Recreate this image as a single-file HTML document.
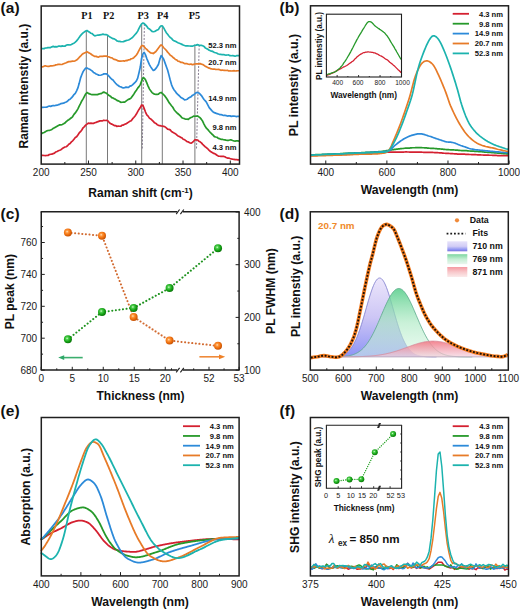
<!DOCTYPE html>
<html><head><meta charset="utf-8"><style>html,body{margin:0;padding:0;background:#fff;}svg{display:block;}</style></head><body>
<svg width="520" height="610" viewBox="0 0 520 610">
<defs><clipPath id="ca"><rect x="41.2" y="6" width="198.3" height="158"/></clipPath><clipPath id="cb"><rect x="310.5" y="5.8" width="198" height="158.2"/></clipPath><clipPath id="cbi"><rect x="326.4" y="14.2" width="75.1" height="62.8"/></clipPath><radialGradient id="sphO" cx="0.4" cy="0.38" r="0.62"><stop offset="0" stop-color="#ffe8c8"/><stop offset="0.25" stop-color="#ff9a40"/><stop offset="0.65" stop-color="#ee6e0c"/><stop offset="1" stop-color="#c45206"/></radialGradient>
<radialGradient id="sphG" cx="0.4" cy="0.38" r="0.62"><stop offset="0" stop-color="#d8ffd0"/><stop offset="0.25" stop-color="#50d050"/><stop offset="0.65" stop-color="#16a416"/><stop offset="1" stop-color="#0a760a"/></radialGradient><linearGradient id="gB" x1="0" y1="0" x2="0" y2="1"><stop offset="0" stop-color="#ece6fb"/><stop offset="0.5" stop-color="#cdc6f5"/><stop offset="1" stop-color="#8e94f6"/></linearGradient>
<linearGradient id="gG" x1="0" y1="0" x2="0" y2="1"><stop offset="0" stop-color="#5ccf8e" stop-opacity="0.9"/><stop offset="0.5" stop-color="#a8e8c0" stop-opacity="0.62"/><stop offset="1" stop-color="#d8f8e4" stop-opacity="0.5"/></linearGradient>
<linearGradient id="gR" x1="0" y1="0" x2="0" y2="1"><stop offset="0" stop-color="#f27884" stop-opacity="0.9"/><stop offset="0.6" stop-color="#f3a8b6" stop-opacity="0.75"/><stop offset="1" stop-color="#f2cedc" stop-opacity="0.65"/></linearGradient>
<clipPath id="cd"><rect x="310.3" y="211.8" width="197.7" height="157.7"/></clipPath><linearGradient id="gB2" x1="0" y1="0" x2="0" y2="1"><stop offset="0" stop-color="#e6e2fa"/><stop offset="0.5" stop-color="#d2cdf6"/><stop offset="0.85" stop-color="#8a90f2"/><stop offset="1" stop-color="#7a70d8"/></linearGradient>
<linearGradient id="gG2" x1="0" y1="0" x2="0" y2="1"><stop offset="0" stop-color="#7dd6a0"/><stop offset="0.5" stop-color="#c5efd4"/><stop offset="1" stop-color="#eaf6ee"/></linearGradient>
<linearGradient id="gR2" x1="0" y1="0" x2="0" y2="1"><stop offset="0" stop-color="#f59aa2"/><stop offset="0.5" stop-color="#f8c8cb"/><stop offset="1" stop-color="#fbeaea"/></linearGradient><clipPath id="cf"><rect x="310.4" y="417.5" width="198.1" height="157.5"/></clipPath></defs>
<rect width="520" height="610" fill="#fff"/>
<text x="0.6" y="12.5" font-family="Liberation Sans" font-size="15.5" font-weight="bold" fill="#111" text-anchor="start" >(a)</text>
<line x1="86.3" y1="31" x2="86.3" y2="164" stroke="#6a6a6a" stroke-width="0.9" />
<line x1="107.5" y1="35" x2="107.5" y2="164" stroke="#6a6a6a" stroke-width="0.9" />
<line x1="141.7" y1="23.5" x2="141.7" y2="164" stroke="#6a6a6a" stroke-width="0.9" />
<line x1="162.3" y1="25.5" x2="162.3" y2="164" stroke="#6a6a6a" stroke-width="0.9" />
<line x1="194.9" y1="44.5" x2="194.9" y2="164" stroke="#6a6a6a" stroke-width="0.9" />
<line x1="144.4" y1="24" x2="142.3" y2="149" stroke="#7a6f86" stroke-width="0.9" stroke-dasharray="2,1.5"/>
<line x1="199.2" y1="45" x2="196.5" y2="149" stroke="#7a6f86" stroke-width="0.9" stroke-dasharray="2,1.5"/>
<path d="M41.5,48.47 L42.8,48.71 L44.1,48.64 L45.4,48.02 L46.7,47.82 L48,47.57 L49.3,47.52 L50.6,47.54 L51.9,46.84 L53.2,46.39 L54.5,46.85 L55.8,46.68 L57.1,46.85 L58.4,46.2 L59.7,46.21 L61,46.39 L62.3,45.92 L63.6,46.22 L64.9,46.21 L66.2,45.32 L67.5,44.75 L68.8,44.79 L70.1,45.01 L71.4,44.42 L72.7,43.73 L74,43.22 L75.3,42.11 L76.6,40.87 L77.9,39.29 L79.2,37.38 L80.5,35.58 L81.8,34.16 L83.1,32.83 L84.4,31.92 L85.7,31.06 L87,30.54 L88.3,31.51 L89.6,32.34 L90.9,33.2 L92.2,33.61 L93.5,35.05 L94.8,35.87 L96.1,35.5 L97.4,35.22 L98.7,35.14 L100,34.85 L101.3,34.72 L102.6,34.18 L103.9,34.41 L105.2,34.59 L106.5,34.67 L107.8,35.31 L109.1,36.36 L110.4,37.33 L111.7,37.93 L113,38.65 L114.3,38.89 L115.6,39.65 L116.9,40.86 L118.2,41.31 L119.5,41.34 L120.8,41.61 L122.1,41.75 L123.4,41.63 L124.7,41.11 L126,40.68 L127.3,40.26 L128.6,39.99 L129.9,39.28 L131.2,38.38 L132.5,37.5 L133.8,36.01 L135.1,34.48 L136.4,33.11 L137.7,31.09 L139,28.29 L140.3,25.92 L141.6,23.88 L142.9,23.01 L144.2,23.63 L145.5,24.88 L146.8,26.35 L148.1,28.15 L149.4,28.9 L150.7,30.05 L152,31.38 L153.3,31.74 L154.6,31.48 L155.9,30.66 L157.2,29.95 L158.5,29.42 L159.8,27.06 L161.1,25.73 L162.4,25.97 L163.7,27.88 L165,30.29 L166.3,32.71 L167.6,34.34 L168.9,36.05 L170.2,37.49 L171.5,38.41 L172.8,40.01 L174.1,40.87 L175.4,41.29 L176.7,42.07 L178,42.73 L179.3,43.21 L180.6,43.7 L181.9,44.37 L183.2,45.01 L184.5,45.54 L185.8,45.84 L187.1,45.73 L188.4,45.93 L189.7,45.98 L191,46.2 L192.3,46.18 L193.6,45.71 L194.9,45.25 L196.2,45.09 L197.5,44.61 L198.8,45.06 L200.1,45.39 L201.4,45.34 L202.7,45.7 L204,46.39 L205.3,47.9 L206.6,48.63 L207.9,49.22 L209.2,50.26 L210.5,50.8 L211.8,51.12 L213.1,51.64 L214.4,52.48 L215.7,52.79 L217,53.23 L218.3,54 L219.6,54.29 L220.9,54.43 L222.2,54.71 L223.5,54.51 L224.8,54.81 L226.1,55.04 L227.4,55 L228.7,54.95 L230,55.68 L231.3,55.74 L232.6,55.54 L233.9,55.83 L235.2,56.2 L236.5,55.71 L237.8,55.5 L239.1,55.56" fill="none" stroke="#1cb3ae" stroke-width="1.7" stroke-linejoin="round" stroke-linecap="round" clip-path="url(#ca)"/>
<path d="M41.5,66.71 L42.8,66.87 L44.1,66.14 L45.4,65.78 L46.7,66.25 L48,66.36 L49.3,66.3 L50.6,65.87 L51.9,65.82 L53.2,65.69 L54.5,65.47 L55.8,64.86 L57.1,64.65 L58.4,64.37 L59.7,64.38 L61,64.48 L62.3,64.34 L63.6,63.76 L64.9,63.25 L66.2,62.72 L67.5,62.12 L68.8,61.68 L70.1,61.7 L71.4,61.42 L72.7,61.14 L74,61.23 L75.3,60.67 L76.6,60.06 L77.9,58.92 L79.2,57.46 L80.5,56.24 L81.8,54.7 L83.1,53.62 L84.4,53.07 L85.7,52.39 L87,51.73 L88.3,52.41 L89.6,53.15 L90.9,53.97 L92.2,55.02 L93.5,55.79 L94.8,56.42 L96.1,56.37 L97.4,56.88 L98.7,57.05 L100,56.34 L101.3,56.45 L102.6,56.41 L103.9,56.13 L105.2,56.09 L106.5,56.13 L107.8,56.72 L109.1,56.89 L110.4,57.55 L111.7,57.76 L113,58.65 L114.3,59.41 L115.6,59.69 L116.9,60.17 L118.2,60.9 L119.5,61.19 L120.8,61.19 L122.1,60.98 L123.4,60.9 L124.7,61.06 L126,60.46 L127.3,60.6 L128.6,59.83 L129.9,59.72 L131.2,58.79 L132.5,58.5 L133.8,57.67 L135.1,56.48 L136.4,54.96 L137.7,52.94 L139,50.39 L140.3,47.98 L141.6,45.78 L142.9,45.46 L144.2,46.89 L145.5,48.38 L146.8,49.35 L148.1,50.86 L149.4,51.94 L150.7,53.02 L152,53.1 L153.3,53.52 L154.6,52.48 L155.9,51.49 L157.2,49.64 L158.5,47.91 L159.8,46.15 L161.1,44.91 L162.4,45.94 L163.7,47.76 L165,49.01 L166.3,50.34 L167.6,52.23 L168.9,53.5 L170.2,55.12 L171.5,55.97 L172.8,57.26 L174.1,58.19 L175.4,59.48 L176.7,59.92 L178,61.24 L179.3,61.35 L180.6,62.28 L181.9,62.33 L183.2,62.77 L184.5,63.65 L185.8,63.61 L187.1,63.7 L188.4,64.26 L189.7,64.3 L191,64.03 L192.3,64.77 L193.6,64.38 L194.9,64.02 L196.2,63.91 L197.5,63.88 L198.8,63.94 L200.1,63.63 L201.4,64.09 L202.7,64.47 L204,65.33 L205.3,66.24 L206.6,66.88 L207.9,67.61 L209.2,68.09 L210.5,68.63 L211.8,68.93 L213.1,69.03 L214.4,68.99 L215.7,69.46 L217,69.48 L218.3,69.37 L219.6,69.69 L220.9,70.3 L222.2,69.98 L223.5,70.29 L224.8,70.33 L226.1,70.5 L227.4,70.3 L228.7,70.99 L230,70.74 L231.3,70.98 L232.6,70.97 L233.9,70.65 L235.2,71.02 L236.5,70.87 L237.8,70.77 L239.1,70.75" fill="none" stroke="#e77b28" stroke-width="1.7" stroke-linejoin="round" stroke-linecap="round" clip-path="url(#ca)"/>
<path d="M41.5,107.46 L42.8,107.46 L44.1,107.23 L45.4,107.24 L46.7,107.17 L48,106.53 L49.3,106.04 L50.6,106.39 L51.9,105.89 L53.2,105.46 L54.5,105.77 L55.8,105.29 L57.1,105.22 L58.4,104.67 L59.7,104.36 L61,103.55 L62.3,103.36 L63.6,103.22 L64.9,102.53 L66.2,102.02 L67.5,101.27 L68.8,99.85 L70.1,99.17 L71.4,97.99 L72.7,96.39 L74,94.52 L75.3,93.28 L76.6,90.86 L77.9,87.91 L79.2,83.35 L80.5,78.17 L81.8,74.8 L83.1,71.65 L84.4,69.7 L85.7,68.11 L87,68.09 L88.3,68.81 L89.6,69.28 L90.9,70.13 L92.2,70.94 L93.5,72.41 L94.8,73.11 L96.1,74.02 L97.4,74.5 L98.7,75.11 L100,75.28 L101.3,74.96 L102.6,74.5 L103.9,73.89 L105.2,73.8 L106.5,73.96 L107.8,75 L109.1,76.31 L110.4,77.96 L111.7,79.27 L113,80.06 L114.3,81.67 L115.6,83.25 L116.9,84.62 L118.2,85.54 L119.5,86.54 L120.8,86.83 L122.1,87.62 L123.4,87.8 L124.7,87.58 L126,87.12 L127.3,87.38 L128.6,87.35 L129.9,86.2 L131.2,85.89 L132.5,84.93 L133.8,83.62 L135.1,82.32 L136.4,80.91 L137.7,78.17 L139,72.73 L140.3,67.05 L141.6,58.19 L142.9,53.95 L144.2,52.34 L145.5,54.87 L146.8,58.58 L148.1,61.55 L149.4,64.58 L150.7,66.89 L152,68.81 L153.3,70.42 L154.6,69.88 L155.9,68.44 L157.2,66.48 L158.5,64.29 L159.8,59.35 L161.1,55.67 L162.4,57.1 L163.7,59.3 L165,62.88 L166.3,66.55 L167.6,70.07 L168.9,74.85 L170.2,80.06 L171.5,84.58 L172.8,87.71 L174.1,89.9 L175.4,91.61 L176.7,93.41 L178,94.61 L179.3,95.76 L180.6,97.16 L181.9,97.9 L183.2,98.67 L184.5,99.79 L185.8,99.75 L187.1,99.3 L188.4,98.04 L189.7,97.4 L191,96.82 L192.3,95.42 L193.6,94.69 L194.9,93.89 L196.2,92.69 L197.5,92.65 L198.8,92.96 L200.1,94.15 L201.4,95.56 L202.7,97.58 L204,99.47 L205.3,100.82 L206.6,102.62 L207.9,105.13 L209.2,107.63 L210.5,109.09 L211.8,110.6 L213.1,111.95 L214.4,112.62 L215.7,113.15 L217,113.57 L218.3,114.02 L219.6,114.58 L220.9,114.71 L222.2,114.95 L223.5,115.52 L224.8,115.21 L226.1,115.63 L227.4,116.06 L228.7,115.93 L230,115.84 L231.3,116.35 L232.6,116.14 L233.9,116.02 L235.2,116.22 L236.5,116.59 L237.8,116.27 L239.1,116.35" fill="none" stroke="#2c8ad9" stroke-width="1.7" stroke-linejoin="round" stroke-linecap="round" clip-path="url(#ca)"/>
<path d="M41.5,133.76 L42.8,132.9 L44.1,132.43 L45.4,131.66 L46.7,130.89 L48,130.49 L49.3,130.44 L50.6,130 L51.9,129.43 L53.2,128.36 L54.5,127.82 L55.8,127.02 L57.1,126.24 L58.4,125.48 L59.7,124.89 L61,124.9 L62.3,124.46 L63.6,123.82 L64.9,123.06 L66.2,121.65 L67.5,120.53 L68.8,119.7 L70.1,118.78 L71.4,117.76 L72.7,116.55 L74,114.43 L75.3,112.93 L76.6,111.11 L77.9,108.8 L79.2,106.03 L80.5,103.63 L81.8,100.93 L83.1,98.88 L84.4,96.39 L85.7,93.96 L87,92.53 L88.3,93.34 L89.6,93.85 L90.9,94.3 L92.2,94.61 L93.5,94.56 L94.8,94.52 L96.1,94.71 L97.4,94.61 L98.7,94.13 L100,93.7 L101.3,93.61 L102.6,92.64 L103.9,92.12 L105.2,92.69 L106.5,93.27 L107.8,94.48 L109.1,95.45 L110.4,96.18 L111.7,97.57 L113,97.97 L114.3,98.77 L115.6,99.36 L116.9,100.35 L118.2,100.86 L119.5,101.51 L120.8,102.32 L122.1,102.24 L123.4,102.17 L124.7,102.14 L126,101.08 L127.3,100.13 L128.6,99.34 L129.9,98.9 L131.2,97.84 L132.5,96.02 L133.8,94.15 L135.1,92.02 L136.4,90.28 L137.7,88.17 L139,86.66 L140.3,84.66 L141.6,81.09 L142.9,77.93 L144.2,78.15 L145.5,79.8 L146.8,82.81 L148.1,86.06 L149.4,88.86 L150.7,90.85 L152,92.62 L153.3,93.43 L154.6,94.23 L155.9,94.32 L157.2,94.33 L158.5,94.11 L159.8,92.93 L161.1,92.48 L162.4,93.6 L163.7,94.72 L165,96.15 L166.3,98 L167.6,99.99 L168.9,102.38 L170.2,104.04 L171.5,105.71 L172.8,107.26 L174.1,109.69 L175.4,111.22 L176.7,112.56 L178,113.75 L179.3,114.92 L180.6,116.16 L181.9,117.69 L183.2,118.3 L184.5,118.65 L185.8,119.24 L187.1,119.14 L188.4,119.32 L189.7,118.17 L191,117.5 L192.3,116.98 L193.6,116.15 L194.9,116.25 L196.2,116.05 L197.5,116.08 L198.8,116.85 L200.1,117.69 L201.4,119.38 L202.7,121.31 L204,124.11 L205.3,126.58 L206.6,128.44 L207.9,129.63 L209.2,131.21 L210.5,132.71 L211.8,134.01 L213.1,135.15 L214.4,136.63 L215.7,136.97 L217,137.26 L218.3,138.35 L219.6,138.69 L220.9,139.36 L222.2,139.27 L223.5,139.77 L224.8,139.9 L226.1,140.18 L227.4,140.37 L228.7,140.3 L230,139.95 L231.3,139.93 L232.6,140.55 L233.9,140.92 L235.2,141.16 L236.5,140.78 L237.8,140.92 L239.1,141.15" fill="none" stroke="#26992a" stroke-width="1.7" stroke-linejoin="round" stroke-linecap="round" clip-path="url(#ca)"/>
<path d="M41.5,155.31 L42.8,155.41 L44.1,155.5 L45.4,155.64 L46.7,155.47 L48,155.48 L49.3,154.55 L50.6,154.25 L51.9,154.21 L53.2,153.57 L54.5,153.13 L55.8,151.94 L57.1,151.45 L58.4,150.72 L59.7,150.26 L61,149.7 L62.3,148.57 L63.6,147.81 L64.9,147.03 L66.2,146.7 L67.5,145.83 L68.8,144.27 L70.1,143.46 L71.4,141.86 L72.7,140.84 L74,139.21 L75.3,137.59 L76.6,136.8 L77.9,134.91 L79.2,132.98 L80.5,131.7 L81.8,130.01 L83.1,127.78 L84.4,126.57 L85.7,125.09 L87,124.17 L88.3,123.16 L89.6,123.29 L90.9,123.13 L92.2,123.34 L93.5,123.37 L94.8,122.79 L96.1,122.39 L97.4,121.83 L98.7,121.37 L100,120.9 L101.3,120.73 L102.6,120.8 L103.9,120.21 L105.2,120.49 L106.5,120.44 L107.8,120.8 L109.1,122.31 L110.4,123.53 L111.7,124.11 L113,124.78 L114.3,125.57 L115.6,125.55 L116.9,126.45 L118.2,126 L119.5,126.25 L120.8,126.22 L122.1,125.17 L123.4,125.04 L124.7,124.3 L126,123.91 L127.3,122.97 L128.6,122.15 L129.9,121.3 L131.2,120.81 L132.5,118.94 L133.8,117.51 L135.1,115.93 L136.4,114.12 L137.7,111.65 L139,109.43 L140.3,107.54 L141.6,105 L142.9,105.32 L144.2,108.61 L145.5,112.07 L146.8,114.89 L148.1,116.12 L149.4,118.11 L150.7,118.91 L152,120.08 L153.3,121.42 L154.6,122.84 L155.9,123.48 L157.2,124.73 L158.5,125.33 L159.8,125.62 L161.1,125.94 L162.4,126.15 L163.7,126.37 L165,126.81 L166.3,127.87 L167.6,129.08 L168.9,129.38 L170.2,129.88 L171.5,131.43 L172.8,132.26 L174.1,133.02 L175.4,133.7 L176.7,134.79 L178,135.95 L179.3,136.61 L180.6,137.34 L181.9,137.82 L183.2,139.26 L184.5,139.6 L185.8,140.58 L187.1,141.71 L188.4,141.91 L189.7,142.71 L191,143.17 L192.3,142.48 L193.6,141.32 L194.9,139.79 L196.2,139.76 L197.5,139.97 L198.8,141.2 L200.1,141.84 L201.4,142.85 L202.7,144.37 L204,145.54 L205.3,146.89 L206.6,147.81 L207.9,148.99 L209.2,150.42 L210.5,151.47 L211.8,152.28 L213.1,153.15 L214.4,153.6 L215.7,154.27 L217,155.36 L218.3,156.05 L219.6,156.25 L220.9,156.39 L222.2,156.46 L223.5,156.43 L224.8,156.75 L226.1,157.51 L227.4,158.1 L228.7,158.06 L230,158.55 L231.3,158.9 L232.6,159.13 L233.9,159.33 L235.2,159.63 L236.5,159.53 L237.8,159.91 L239.1,159.84" fill="none" stroke="#d42030" stroke-width="1.7" stroke-linejoin="round" stroke-linecap="round" clip-path="url(#ca)"/>
<rect x="41.2" y="6" width="198.3" height="158.1" stroke="#1f1f1f" stroke-width="1.5" fill="none" />
<line x1="88.47" y1="164" x2="88.47" y2="160.5" stroke="#1f1f1f" stroke-width="1" />
<line x1="135.75" y1="164" x2="135.75" y2="160.5" stroke="#1f1f1f" stroke-width="1" />
<line x1="183.02" y1="164" x2="183.02" y2="160.5" stroke="#1f1f1f" stroke-width="1" />
<line x1="230.3" y1="164" x2="230.3" y2="160.5" stroke="#1f1f1f" stroke-width="1" />
<line x1="64.84" y1="164" x2="64.84" y2="162" stroke="#1f1f1f" stroke-width="1" />
<line x1="112.11" y1="164" x2="112.11" y2="162" stroke="#1f1f1f" stroke-width="1" />
<line x1="159.39" y1="164" x2="159.39" y2="162" stroke="#1f1f1f" stroke-width="1" />
<line x1="206.66" y1="164" x2="206.66" y2="162" stroke="#1f1f1f" stroke-width="1" />
<text x="41.2" y="176" font-family="Liberation Sans" font-size="10" font-weight="normal" fill="#1a1a1a" text-anchor="middle" >200</text>
<text x="88.47" y="176" font-family="Liberation Sans" font-size="10" font-weight="normal" fill="#1a1a1a" text-anchor="middle" >250</text>
<text x="135.75" y="176" font-family="Liberation Sans" font-size="10" font-weight="normal" fill="#1a1a1a" text-anchor="middle" >300</text>
<text x="183.02" y="176" font-family="Liberation Sans" font-size="10" font-weight="normal" fill="#1a1a1a" text-anchor="middle" >350</text>
<text x="230.3" y="176" font-family="Liberation Sans" font-size="10" font-weight="normal" fill="#1a1a1a" text-anchor="middle" >400</text>
<text x="86.9" y="18.7" font-family="Liberation Serif" font-size="10.2" font-weight="bold" fill="#111" text-anchor="middle" >P1</text>
<text x="108.7" y="18.7" font-family="Liberation Serif" font-size="10.2" font-weight="bold" fill="#111" text-anchor="middle" >P2</text>
<text x="143.2" y="18.7" font-family="Liberation Serif" font-size="10.2" font-weight="bold" fill="#111" text-anchor="middle" >P3</text>
<text x="162.6" y="18.7" font-family="Liberation Serif" font-size="10.2" font-weight="bold" fill="#111" text-anchor="middle" >P4</text>
<text x="194.5" y="18.7" font-family="Liberation Serif" font-size="10.2" font-weight="bold" fill="#111" text-anchor="middle" >P5</text>
<text x="236.5" y="47.8" font-family="Liberation Sans" font-size="7.6" font-weight="bold" fill="#111" text-anchor="end" >52.3 nm</text>
<text x="236.5" y="64.8" font-family="Liberation Sans" font-size="7.6" font-weight="bold" fill="#111" text-anchor="end" >20.7 nm</text>
<text x="236.5" y="101.3" font-family="Liberation Sans" font-size="7.6" font-weight="bold" fill="#111" text-anchor="end" >14.9 nm</text>
<text x="236.5" y="130.2" font-family="Liberation Sans" font-size="7.6" font-weight="bold" fill="#111" text-anchor="end" >9.8 nm</text>
<text x="236.5" y="150.2" font-family="Liberation Sans" font-size="7.6" font-weight="bold" fill="#111" text-anchor="end" >4.3 nm</text>
<text x="140.6" y="197.3" font-family="Liberation Sans" font-size="12" font-weight="bold" fill="#111" text-anchor="middle">Raman shift (cm<tspan font-size="8" dy="-4.5">-1</tspan><tspan dy="4.5">)</tspan></text>
<text x="28.1" y="86.1" font-family="Liberation Sans" font-size="12" font-weight="bold" fill="#111" text-anchor="middle" transform="rotate(-90 28.1 86.1)" >Raman intenstiy (a.u.)</text>
<text x="279.6" y="12.7" font-family="Liberation Sans" font-size="15.5" font-weight="bold" fill="#111" text-anchor="start" >(b)</text>
<text x="297.9" y="85" font-family="Liberation Sans" font-size="12.3" font-weight="bold" fill="#111" text-anchor="middle" transform="rotate(-90 297.9 85)" >PL intenstiy (a.u.)</text>
<path d="M310.6,155.49 L311.6,155.49 L312.6,155.48 L313.6,155.45 L314.6,155.4 L315.6,155.35 L316.6,155.3 L317.6,155.27 L318.6,155.27 L319.6,155.24 L320.6,155.17 L321.6,155.11 L322.6,155.08 L323.6,155.08 L324.6,155.07 L325.6,155.05 L326.6,155.06 L327.6,155.07 L328.6,155.04 L329.6,154.96 L330.6,154.87 L331.6,154.79 L332.6,154.74 L333.6,154.69 L334.6,154.65 L335.6,154.61 L336.6,154.58 L337.6,154.58 L338.6,154.59 L339.6,154.6 L340.6,154.59 L341.6,154.55 L342.6,154.52 L343.6,154.48 L344.6,154.43 L345.6,154.39 L346.6,154.4 L347.6,154.41 L348.6,154.38 L349.6,154.3 L350.6,154.2 L351.6,154.1 L352.6,154.01 L353.6,153.96 L354.6,153.94 L355.6,153.92 L356.6,153.89 L357.6,153.86 L358.6,153.82 L359.6,153.75 L360.6,153.64 L361.6,153.55 L362.6,153.52 L363.6,153.49 L364.6,153.44 L365.6,153.35 L366.6,153.25 L367.6,153.19 L368.6,153.14 L369.6,153.05 L370.6,152.96 L371.6,152.92 L372.6,152.91 L373.6,152.86 L374.6,152.76 L375.6,152.66 L376.6,152.57 L377.6,152.52 L378.6,152.5 L379.6,152.47 L380.6,152.44 L381.6,152.4 L382.6,152.35 L383.6,152.32 L384.6,152.28 L385.6,152.24 L386.6,152.2 L387.6,152.16 L388.6,152.13 L389.6,152.14 L390.6,152.18 L391.6,152.19 L392.6,152.17 L393.6,152.14 L394.6,152.11 L395.6,152.09 L396.6,152.11 L397.6,152.1 L398.6,152.08 L399.6,152.07 L400.6,152.05 L401.6,152.04 L402.6,152.04 L403.6,152.03 L404.6,152 L405.6,151.96 L406.6,151.96 L407.6,151.98 L408.6,152.01 L409.6,152.04 L410.6,152.06 L411.6,152.09 L412.6,152.13 L413.6,152.15 L414.6,152.17 L415.6,152.17 L416.6,152.14 L417.6,152.14 L418.6,152.19 L419.6,152.22 L420.6,152.21 L421.6,152.2 L422.6,152.25 L423.6,152.3 L424.6,152.32 L425.6,152.37 L426.6,152.41 L427.6,152.41 L428.6,152.38 L429.6,152.35 L430.6,152.36 L431.6,152.42 L432.6,152.47 L433.6,152.52 L434.6,152.57 L435.6,152.63 L436.6,152.68 L437.6,152.71 L438.6,152.75 L439.6,152.8 L440.6,152.85 L441.6,152.92 L442.6,153.04 L443.6,153.16 L444.6,153.24 L445.6,153.31 L446.6,153.38 L447.6,153.41 L448.6,153.44 L449.6,153.49 L450.6,153.55 L451.6,153.6 L452.6,153.65 L453.6,153.73 L454.6,153.8 L455.6,153.85 L456.6,153.93 L457.6,154.03 L458.6,154.13 L459.6,154.18 L460.6,154.2 L461.6,154.2 L462.6,154.18 L463.6,154.16 L464.6,154.2 L465.6,154.3 L466.6,154.4 L467.6,154.45 L468.6,154.45 L469.6,154.48 L470.6,154.52 L471.6,154.57 L472.6,154.61 L473.6,154.64 L474.6,154.66 L475.6,154.7 L476.6,154.77 L477.6,154.84 L478.6,154.89 L479.6,154.92 L480.6,154.96 L481.6,154.99 L482.6,155 L483.6,155.04 L484.6,155.09 L485.6,155.13 L486.6,155.15 L487.6,155.18 L488.6,155.22 L489.6,155.24 L490.6,155.25 L491.6,155.26 L492.6,155.28 L493.6,155.3 L494.6,155.32 L495.6,155.38 L496.6,155.47 L497.6,155.53 L498.6,155.56 L499.6,155.56 L500.6,155.58 L501.6,155.61 L502.6,155.64 L503.6,155.66 L504.6,155.67 L505.6,155.68 L506.6,155.7 L507.6,155.71" fill="none" stroke="#d42030" stroke-width="1.7" stroke-linejoin="round" stroke-linecap="round" clip-path="url(#cb)"/>
<path d="M310.6,154.99 L311.6,154.97 L312.6,154.92 L313.6,154.82 L314.6,154.74 L315.6,154.69 L316.6,154.67 L317.6,154.68 L318.6,154.67 L319.6,154.64 L320.6,154.59 L321.6,154.52 L322.6,154.44 L323.6,154.38 L324.6,154.33 L325.6,154.3 L326.6,154.26 L327.6,154.22 L328.6,154.17 L329.6,154.12 L330.6,154.08 L331.6,154.04 L332.6,154 L333.6,153.92 L334.6,153.86 L335.6,153.85 L336.6,153.82 L337.6,153.78 L338.6,153.77 L339.6,153.74 L340.6,153.66 L341.6,153.57 L342.6,153.49 L343.6,153.44 L344.6,153.41 L345.6,153.37 L346.6,153.32 L347.6,153.25 L348.6,153.2 L349.6,153.19 L350.6,153.15 L351.6,153.11 L352.6,153.07 L353.6,153.02 L354.6,152.95 L355.6,152.89 L356.6,152.89 L357.6,152.91 L358.6,152.9 L359.6,152.83 L360.6,152.74 L361.6,152.67 L362.6,152.62 L363.6,152.57 L364.6,152.48 L365.6,152.4 L366.6,152.36 L367.6,152.34 L368.6,152.32 L369.6,152.26 L370.6,152.19 L371.6,152.14 L372.6,152.1 L373.6,152.03 L374.6,151.95 L375.6,151.88 L376.6,151.82 L377.6,151.76 L378.6,151.68 L379.6,151.59 L380.6,151.5 L381.6,151.4 L382.6,151.27 L383.6,151.14 L384.6,151.02 L385.6,150.88 L386.6,150.7 L387.6,150.51 L388.6,150.31 L389.6,150.13 L390.6,149.98 L391.6,149.86 L392.6,149.73 L393.6,149.59 L394.6,149.45 L395.6,149.32 L396.6,149.18 L397.6,149.04 L398.6,148.95 L399.6,148.84 L400.6,148.7 L401.6,148.58 L402.6,148.49 L403.6,148.39 L404.6,148.26 L405.6,148.14 L406.6,148.07 L407.6,148.06 L408.6,148.07 L409.6,148.05 L410.6,147.95 L411.6,147.83 L412.6,147.77 L413.6,147.76 L414.6,147.76 L415.6,147.71 L416.6,147.65 L417.6,147.62 L418.6,147.61 L419.6,147.61 L420.6,147.63 L421.6,147.69 L422.6,147.74 L423.6,147.75 L424.6,147.79 L425.6,147.88 L426.6,147.97 L427.6,148.07 L428.6,148.15 L429.6,148.23 L430.6,148.28 L431.6,148.31 L432.6,148.35 L433.6,148.42 L434.6,148.53 L435.6,148.63 L436.6,148.7 L437.6,148.79 L438.6,148.86 L439.6,148.92 L440.6,149.01 L441.6,149.13 L442.6,149.22 L443.6,149.31 L444.6,149.41 L445.6,149.5 L446.6,149.55 L447.6,149.59 L448.6,149.65 L449.6,149.73 L450.6,149.8 L451.6,149.84 L452.6,149.87 L453.6,149.92 L454.6,149.99 L455.6,150.04 L456.6,150.09 L457.6,150.18 L458.6,150.3 L459.6,150.4 L460.6,150.49 L461.6,150.55 L462.6,150.6 L463.6,150.63 L464.6,150.64 L465.6,150.66 L466.6,150.7 L467.6,150.79 L468.6,150.91 L469.6,151 L470.6,151.06 L471.6,151.1 L472.6,151.14 L473.6,151.21 L474.6,151.29 L475.6,151.35 L476.6,151.39 L477.6,151.45 L478.6,151.53 L479.6,151.61 L480.6,151.65 L481.6,151.7 L482.6,151.8 L483.6,151.92 L484.6,152.05 L485.6,152.16 L486.6,152.24 L487.6,152.28 L488.6,152.31 L489.6,152.37 L490.6,152.45 L491.6,152.53 L492.6,152.62 L493.6,152.7 L494.6,152.78 L495.6,152.87 L496.6,152.97 L497.6,153.04 L498.6,153.1 L499.6,153.17 L500.6,153.25 L501.6,153.34 L502.6,153.46 L503.6,153.59 L504.6,153.69 L505.6,153.77 L506.6,153.82 L507.6,153.85" fill="none" stroke="#26992a" stroke-width="1.7" stroke-linejoin="round" stroke-linecap="round" clip-path="url(#cb)"/>
<path d="M310.6,155.26 L311.6,155.26 L312.6,155.25 L313.6,155.21 L314.6,155.12 L315.6,155.03 L316.6,154.96 L317.6,154.92 L318.6,154.9 L319.6,154.86 L320.6,154.81 L321.6,154.76 L322.6,154.72 L323.6,154.7 L324.6,154.7 L325.6,154.65 L326.6,154.56 L327.6,154.49 L328.6,154.46 L329.6,154.47 L330.6,154.48 L331.6,154.47 L332.6,154.45 L333.6,154.41 L334.6,154.37 L335.6,154.3 L336.6,154.22 L337.6,154.17 L338.6,154.12 L339.6,154.07 L340.6,154.01 L341.6,153.94 L342.6,153.87 L343.6,153.8 L344.6,153.74 L345.6,153.69 L346.6,153.69 L347.6,153.71 L348.6,153.7 L349.6,153.65 L350.6,153.58 L351.6,153.51 L352.6,153.43 L353.6,153.37 L354.6,153.3 L355.6,153.22 L356.6,153.16 L357.6,153.11 L358.6,153.07 L359.6,153.04 L360.6,153 L361.6,152.94 L362.6,152.87 L363.6,152.81 L364.6,152.74 L365.6,152.67 L366.6,152.61 L367.6,152.55 L368.6,152.51 L369.6,152.5 L370.6,152.49 L371.6,152.44 L372.6,152.4 L373.6,152.33 L374.6,152.22 L375.6,152.14 L376.6,152.12 L377.6,152.1 L378.6,152.03 L379.6,151.94 L380.6,151.87 L381.6,151.84 L382.6,151.8 L383.6,151.7 L384.6,151.57 L385.6,151.43 L386.6,151.28 L387.6,151.08 L388.6,150.83 L389.6,150.49 L390.6,149.88 L391.6,148.86 L392.6,147.64 L393.6,146.57 L394.6,145.7 L395.6,144.87 L396.6,144.07 L397.6,143.28 L398.6,142.5 L399.6,141.75 L400.6,141.03 L401.6,140.36 L402.6,139.7 L403.6,139.06 L404.6,138.48 L405.6,137.97 L406.6,137.49 L407.6,137.01 L408.6,136.54 L409.6,136.11 L410.6,135.73 L411.6,135.37 L412.6,135.08 L413.6,134.83 L414.6,134.56 L415.6,134.3 L416.6,134.08 L417.6,133.91 L418.6,133.8 L419.6,133.75 L420.6,133.8 L421.6,133.92 L422.6,134.08 L423.6,134.31 L424.6,134.62 L425.6,134.97 L426.6,135.31 L427.6,135.63 L428.6,135.95 L429.6,136.24 L430.6,136.54 L431.6,136.89 L432.6,137.29 L433.6,137.66 L434.6,138 L435.6,138.36 L436.6,138.72 L437.6,139.06 L438.6,139.4 L439.6,139.73 L440.6,140.06 L441.6,140.38 L442.6,140.71 L443.6,141.02 L444.6,141.32 L445.6,141.59 L446.6,141.83 L447.6,142.02 L448.6,142.12 L449.6,142.14 L450.6,142.18 L451.6,142.28 L452.6,142.47 L453.6,142.74 L454.6,143.06 L455.6,143.42 L456.6,143.82 L457.6,144.24 L458.6,144.67 L459.6,145.08 L460.6,145.47 L461.6,145.82 L462.6,146.15 L463.6,146.48 L464.6,146.81 L465.6,147.15 L466.6,147.51 L467.6,147.89 L468.6,148.26 L469.6,148.56 L470.6,148.79 L471.6,148.98 L472.6,149.19 L473.6,149.39 L474.6,149.58 L475.6,149.75 L476.6,149.86 L477.6,149.93 L478.6,150 L479.6,150.12 L480.6,150.25 L481.6,150.35 L482.6,150.44 L483.6,150.53 L484.6,150.63 L485.6,150.73 L486.6,150.82 L487.6,150.93 L488.6,151.05 L489.6,151.16 L490.6,151.26 L491.6,151.35 L492.6,151.43 L493.6,151.52 L494.6,151.62 L495.6,151.74 L496.6,151.83 L497.6,151.87 L498.6,151.92 L499.6,152.03 L500.6,152.16 L501.6,152.26 L502.6,152.36 L503.6,152.46 L504.6,152.52 L505.6,152.55 L506.6,152.59 L507.6,152.62" fill="none" stroke="#2c8ad9" stroke-width="1.7" stroke-linejoin="round" stroke-linecap="round" clip-path="url(#cb)"/>
<path d="M310.6,155.94 L311.6,155.96 L312.6,155.97 L313.6,155.96 L314.6,155.9 L315.6,155.85 L316.6,155.83 L317.6,155.81 L318.6,155.77 L319.6,155.74 L320.6,155.72 L321.6,155.68 L322.6,155.62 L323.6,155.58 L324.6,155.57 L325.6,155.54 L326.6,155.5 L327.6,155.49 L328.6,155.46 L329.6,155.4 L330.6,155.37 L331.6,155.34 L332.6,155.29 L333.6,155.24 L334.6,155.18 L335.6,155.12 L336.6,155.07 L337.6,155.06 L338.6,155.08 L339.6,155.08 L340.6,155.07 L341.6,155.03 L342.6,155 L343.6,154.98 L344.6,154.92 L345.6,154.85 L346.6,154.79 L347.6,154.75 L348.6,154.68 L349.6,154.64 L350.6,154.63 L351.6,154.6 L352.6,154.54 L353.6,154.49 L354.6,154.46 L355.6,154.45 L356.6,154.41 L357.6,154.36 L358.6,154.32 L359.6,154.26 L360.6,154.2 L361.6,154.17 L362.6,154.15 L363.6,154.13 L364.6,154.11 L365.6,154.09 L366.6,154.09 L367.6,154.1 L368.6,154.1 L369.6,154.08 L370.6,154.06 L371.6,154.03 L372.6,154 L373.6,153.95 L374.6,153.91 L375.6,153.89 L376.6,153.89 L377.6,153.84 L378.6,153.72 L379.6,153.6 L380.6,153.5 L381.6,153.38 L382.6,153.24 L383.6,153.1 L384.6,152.92 L385.6,152.62 L386.6,152.16 L387.6,151.53 L388.6,150.65 L389.6,149.35 L390.6,147.52 L391.6,145.29 L392.6,142.91 L393.6,140.56 L394.6,138.23 L395.6,135.88 L396.6,133.5 L397.6,131.1 L398.6,128.67 L399.6,126.13 L400.6,123.5 L401.6,120.79 L402.6,117.98 L403.6,115.1 L404.6,112.17 L405.6,109.23 L406.6,106.28 L407.6,103.29 L408.6,100.21 L409.6,96.93 L410.6,93.41 L411.6,89.63 L412.6,85.69 L413.6,81.86 L414.6,78.44 L415.6,75.5 L416.6,72.96 L417.6,70.69 L418.6,68.62 L419.6,66.69 L420.6,64.97 L421.6,63.59 L422.6,62.57 L423.6,61.84 L424.6,61.33 L425.6,61 L426.6,60.87 L427.6,60.97 L428.6,61.31 L429.6,61.82 L430.6,62.46 L431.6,63.24 L432.6,64.25 L433.6,65.54 L434.6,67.13 L435.6,68.94 L436.6,70.93 L437.6,73.03 L438.6,75.18 L439.6,77.4 L440.6,79.68 L441.6,82.02 L442.6,84.41 L443.6,86.83 L444.6,89.29 L445.6,91.85 L446.6,94.61 L447.6,97.56 L448.6,100.54 L449.6,103.34 L450.6,105.87 L451.6,108.18 L452.6,110.37 L453.6,112.49 L454.6,114.57 L455.6,116.6 L456.6,118.56 L457.6,120.47 L458.6,122.3 L459.6,124.01 L460.6,125.64 L461.6,127.23 L462.6,128.78 L463.6,130.3 L464.6,131.75 L465.6,133.07 L466.6,134.27 L467.6,135.42 L468.6,136.51 L469.6,137.48 L470.6,138.37 L471.6,139.25 L472.6,140.08 L473.6,140.88 L474.6,141.62 L475.6,142.29 L476.6,142.89 L477.6,143.41 L478.6,143.92 L479.6,144.39 L480.6,144.81 L481.6,145.21 L482.6,145.57 L483.6,145.88 L484.6,146.18 L485.6,146.48 L486.6,146.72 L487.6,146.93 L488.6,147.14 L489.6,147.35 L490.6,147.55 L491.6,147.75 L492.6,147.95 L493.6,148.16 L494.6,148.41 L495.6,148.67 L496.6,148.95 L497.6,149.24 L498.6,149.49 L499.6,149.71 L500.6,149.9 L501.6,150.1 L502.6,150.32 L503.6,150.55 L504.6,150.75 L505.6,150.98 L506.6,151.23 L507.6,151.42" fill="none" stroke="#e77b28" stroke-width="1.7" stroke-linejoin="round" stroke-linecap="round" clip-path="url(#cb)"/>
<path d="M310.6,155.21 L311.6,155.15 L312.6,155.1 L313.6,155.05 L314.6,155.01 L315.6,154.97 L316.6,154.94 L317.6,154.93 L318.6,154.92 L319.6,154.87 L320.6,154.78 L321.6,154.69 L322.6,154.64 L323.6,154.57 L324.6,154.5 L325.6,154.46 L326.6,154.47 L327.6,154.47 L328.6,154.43 L329.6,154.37 L330.6,154.32 L331.6,154.26 L332.6,154.18 L333.6,154.11 L334.6,154.05 L335.6,153.99 L336.6,153.96 L337.6,153.93 L338.6,153.93 L339.6,153.92 L340.6,153.89 L341.6,153.84 L342.6,153.82 L343.6,153.8 L344.6,153.75 L345.6,153.68 L346.6,153.57 L347.6,153.47 L348.6,153.43 L349.6,153.44 L350.6,153.44 L351.6,153.4 L352.6,153.33 L353.6,153.29 L354.6,153.24 L355.6,153.16 L356.6,153.06 L357.6,153 L358.6,153 L359.6,153.01 L360.6,152.99 L361.6,152.94 L362.6,152.88 L363.6,152.85 L364.6,152.83 L365.6,152.78 L366.6,152.72 L367.6,152.69 L368.6,152.68 L369.6,152.67 L370.6,152.65 L371.6,152.6 L372.6,152.54 L373.6,152.49 L374.6,152.49 L375.6,152.48 L376.6,152.41 L377.6,152.32 L378.6,152.26 L379.6,152.22 L380.6,152.21 L381.6,152.21 L382.6,152.17 L383.6,152.11 L384.6,152.05 L385.6,151.99 L386.6,151.79 L387.6,151.35 L388.6,150.68 L389.6,149.75 L390.6,148.51 L391.6,146.92 L392.6,145.11 L393.6,143.23 L394.6,141.31 L395.6,139.33 L396.6,137.28 L397.6,135.14 L398.6,132.89 L399.6,130.52 L400.6,128.05 L401.6,125.51 L402.6,122.91 L403.6,120.23 L404.6,117.46 L405.6,114.63 L406.6,111.79 L407.6,108.95 L408.6,106.12 L409.6,103.28 L410.6,100.33 L411.6,97.1 L412.6,93.4 L413.6,89.12 L414.6,84.41 L415.6,79.56 L416.6,74.9 L417.6,70.67 L418.6,66.93 L419.6,63.59 L420.6,60.55 L421.6,57.72 L422.6,54.99 L423.6,52.39 L424.6,49.89 L425.6,47.48 L426.6,45.21 L427.6,43.11 L428.6,41.18 L429.6,39.44 L430.6,37.94 L431.6,36.79 L432.6,36.06 L433.6,35.75 L434.6,35.88 L435.6,36.41 L436.6,37.23 L437.6,38.28 L438.6,39.58 L439.6,41.12 L440.6,42.91 L441.6,44.91 L442.6,47.08 L443.6,49.34 L444.6,51.71 L445.6,54.2 L446.6,56.78 L447.6,59.45 L448.6,62.19 L449.6,65.01 L450.6,67.89 L451.6,70.85 L452.6,73.89 L453.6,76.97 L454.6,80.12 L455.6,83.36 L456.6,86.67 L457.6,90.08 L458.6,93.67 L459.6,97.45 L460.6,101.16 L461.6,104.55 L462.6,107.62 L463.6,110.49 L464.6,113.21 L465.6,115.8 L466.6,118.21 L467.6,120.41 L468.6,122.41 L469.6,124.22 L470.6,125.82 L471.6,127.25 L472.6,128.55 L473.6,129.77 L474.6,130.94 L475.6,132.04 L476.6,133.07 L477.6,134.04 L478.6,134.97 L479.6,135.81 L480.6,136.59 L481.6,137.34 L482.6,138.07 L483.6,138.81 L484.6,139.52 L485.6,140.19 L486.6,140.81 L487.6,141.4 L488.6,141.94 L489.6,142.47 L490.6,143 L491.6,143.49 L492.6,143.97 L493.6,144.44 L494.6,144.9 L495.6,145.3 L496.6,145.68 L497.6,146.04 L498.6,146.39 L499.6,146.73 L500.6,147.07 L501.6,147.4 L502.6,147.72 L503.6,148.05 L504.6,148.41 L505.6,148.74 L506.6,149.01 L507.6,149.2" fill="none" stroke="#1cb3ae" stroke-width="1.7" stroke-linejoin="round" stroke-linecap="round" clip-path="url(#cb)"/>
<rect x="310.5" y="5.8" width="198" height="158.3" stroke="#1f1f1f" stroke-width="1.5" fill="none" />
<line x1="325.77" y1="164" x2="325.77" y2="160.5" stroke="#1f1f1f" stroke-width="1" />
<line x1="386.88" y1="164" x2="386.88" y2="160.5" stroke="#1f1f1f" stroke-width="1" />
<line x1="447.98" y1="164" x2="447.98" y2="160.5" stroke="#1f1f1f" stroke-width="1" />
<line x1="509.07" y1="164" x2="509.07" y2="160.5" stroke="#1f1f1f" stroke-width="1" />
<line x1="356.32" y1="164" x2="356.32" y2="162" stroke="#1f1f1f" stroke-width="1" />
<line x1="417.43" y1="164" x2="417.43" y2="162" stroke="#1f1f1f" stroke-width="1" />
<line x1="478.52" y1="164" x2="478.52" y2="162" stroke="#1f1f1f" stroke-width="1" />
<text x="325.77" y="176" font-family="Liberation Sans" font-size="10" font-weight="normal" fill="#1a1a1a" text-anchor="middle" >400</text>
<text x="386.88" y="176" font-family="Liberation Sans" font-size="10" font-weight="normal" fill="#1a1a1a" text-anchor="middle" >600</text>
<text x="447.98" y="176" font-family="Liberation Sans" font-size="10" font-weight="normal" fill="#1a1a1a" text-anchor="middle" >800</text>
<text x="509.07" y="176" font-family="Liberation Sans" font-size="10" font-weight="normal" fill="#1a1a1a" text-anchor="middle" >1000</text>
<text x="409.5" y="194.2" font-family="Liberation Sans" font-size="12.2" font-weight="bold" fill="#111" text-anchor="middle" >Wavelength (nm)</text>
<line x1="452.7" y1="13.8" x2="469" y2="13.8" stroke="#d42030" stroke-width="1.8" />
<line x1="452.7" y1="23.7" x2="469" y2="23.7" stroke="#26992a" stroke-width="1.8" />
<line x1="452.7" y1="33.6" x2="469" y2="33.6" stroke="#2c8ad9" stroke-width="1.8" />
<line x1="452.7" y1="43.5" x2="469" y2="43.5" stroke="#e77b28" stroke-width="1.8" />
<line x1="452.7" y1="53.4" x2="469" y2="53.4" stroke="#1cb3ae" stroke-width="1.8" />
<text x="503" y="16.6" font-family="Liberation Sans" font-size="7.6" font-weight="bold" fill="#111" text-anchor="end" >4.3 nm</text>
<text x="503" y="26.5" font-family="Liberation Sans" font-size="7.6" font-weight="bold" fill="#111" text-anchor="end" >9.8 nm</text>
<text x="503" y="36.4" font-family="Liberation Sans" font-size="7.6" font-weight="bold" fill="#111" text-anchor="end" >14.9 nm</text>
<text x="503" y="46.3" font-family="Liberation Sans" font-size="7.6" font-weight="bold" fill="#111" text-anchor="end" >20.7 nm</text>
<text x="503" y="56.2" font-family="Liberation Sans" font-size="7.6" font-weight="bold" fill="#111" text-anchor="end" >52.3 nm</text>
<rect x="326.4" y="14.2" width="75.1" height="62.8" stroke="none" stroke-width="0" fill="#fff" />
<path d="M326.8,75.27 L327.8,74.97 L328.8,74.6 L329.8,74.14 L330.8,73.58 L331.8,73.31 L332.8,72.95 L333.8,72.42 L334.8,71.9 L335.8,71.28 L336.8,70.61 L337.8,70.15 L338.8,69.73 L339.8,69.05 L340.8,68.72 L341.8,68.05 L342.8,67.44 L343.8,66.77 L344.8,66.52 L345.8,66 L346.8,65.49 L347.8,64.81 L348.8,63.92 L349.8,63.26 L350.8,62.64 L351.8,61.76 L352.8,61.2 L353.8,60.19 L354.8,59.08 L355.8,58.27 L356.8,57.09 L357.8,56.38 L358.8,55.47 L359.8,54.77 L360.8,54.1 L361.8,53.6 L362.8,53.04 L363.8,52.53 L364.8,52.48 L365.8,52.1 L366.8,52.07 L367.8,51.79 L368.8,51.96 L369.8,52.06 L370.8,52.14 L371.8,52.31 L372.8,52.48 L373.8,52.81 L374.8,52.93 L375.8,53.35 L376.8,53.94 L377.8,54.21 L378.8,54.88 L379.8,55.48 L380.8,55.88 L381.8,56.38 L382.8,57 L383.8,57.62 L384.8,58.52 L385.8,59.08 L386.8,59.58 L387.8,60.23 L388.8,61.18 L389.8,62.17 L390.8,62.9 L391.8,63.71 L392.8,64.6 L393.8,65.59 L394.8,66.34 L395.8,67.36 L396.8,68.35 L397.8,69.39 L398.8,70.24 L399.8,71.18 L400.8,72.24" fill="none" stroke="#d42030" stroke-width="1.3" stroke-linejoin="round" stroke-linecap="round" clip-path="url(#cbi)"/>
<path d="M326.8,74.78 L327.8,74.23 L328.8,73.79 L329.8,73.82 L330.8,73.35 L331.8,72.92 L332.8,72.73 L333.8,72.28 L334.8,72.02 L335.8,71.3 L336.8,70.83 L337.8,69.86 L338.8,68.98 L339.8,68.12 L340.8,66.99 L341.8,65.87 L342.8,64.55 L343.8,62.91 L344.8,61.69 L345.8,60.19 L346.8,58.52 L347.8,56.74 L348.8,55.18 L349.8,53.33 L350.8,51.56 L351.8,49.62 L352.8,47.74 L353.8,45.68 L354.8,43.77 L355.8,41.9 L356.8,39.91 L357.8,38.28 L358.8,36.3 L359.8,34.62 L360.8,33.03 L361.8,31.36 L362.8,29.57 L363.8,28.11 L364.8,26.5 L365.8,24.77 L366.8,23.28 L367.8,22.32 L368.8,21.54 L369.8,21.61 L370.8,21.9 L371.8,22.58 L372.8,23.5 L373.8,24.65 L374.8,25.84 L375.8,26.59 L376.8,27.29 L377.8,28.04 L378.8,28.62 L379.8,29.36 L380.8,30.04 L381.8,30.71 L382.8,31.53 L383.8,32.33 L384.8,33.05 L385.8,34.38 L386.8,35.46 L387.8,36.8 L388.8,38.29 L389.8,40.13 L390.8,41.93 L391.8,43.5 L392.8,45.07 L393.8,46.6 L394.8,48.56 L395.8,50.15 L396.8,51.98 L397.8,53.71 L398.8,55.47 L399.8,57.26 L400.8,58.98" fill="none" stroke="#26992a" stroke-width="1.3" stroke-linejoin="round" stroke-linecap="round" clip-path="url(#cbi)"/>
<rect x="326.4" y="14.2" width="75.1" height="62.8" stroke="#1f1f1f" stroke-width="1.1" fill="none" />
<line x1="337.13" y1="77" x2="337.13" y2="75" stroke="#1f1f1f" stroke-width="0.9" />
<line x1="358.59" y1="77" x2="358.59" y2="75" stroke="#1f1f1f" stroke-width="0.9" />
<line x1="380.05" y1="77" x2="380.05" y2="75" stroke="#1f1f1f" stroke-width="0.9" />
<line x1="401.51" y1="77" x2="401.51" y2="75" stroke="#1f1f1f" stroke-width="0.9" />
<line x1="347.86" y1="77" x2="347.86" y2="76" stroke="#1f1f1f" stroke-width="0.9" />
<line x1="369.32" y1="77" x2="369.32" y2="76" stroke="#1f1f1f" stroke-width="0.9" />
<line x1="390.78" y1="77" x2="390.78" y2="76" stroke="#1f1f1f" stroke-width="0.9" />
<text x="337.7" y="85.1" font-family="Liberation Sans" font-size="6.6" font-weight="normal" fill="#1a1a1a" text-anchor="middle" >400</text>
<text x="358" y="85.1" font-family="Liberation Sans" font-size="6.6" font-weight="normal" fill="#1a1a1a" text-anchor="middle" >600</text>
<text x="380" y="85.1" font-family="Liberation Sans" font-size="6.6" font-weight="normal" fill="#1a1a1a" text-anchor="middle" >800</text>
<text x="402.5" y="85.1" font-family="Liberation Sans" font-size="6.6" font-weight="normal" fill="#1a1a1a" text-anchor="middle" >1000</text>
<text x="363.7" y="98.2" font-family="Liberation Sans" font-size="8.3" font-weight="bold" fill="#111" text-anchor="middle" >Wavelength (nm)</text>
<text x="321.6" y="46" font-family="Liberation Sans" font-size="8.2" font-weight="bold" fill="#111" text-anchor="middle" transform="rotate(-90 321.6 46)" >PL intenstiy (a.u.)</text>
<text x="0.6" y="218.5" font-family="Liberation Sans" font-size="15.5" font-weight="bold" fill="#111" text-anchor="start" >(c)</text>
<path d="M67.91,232.55 L102.01,235.72 L133.63,316.98 L169.59,340.59 L218.03,345.86" fill="none" stroke="#d26a30" stroke-width="2.0" stroke-linejoin="round" stroke-linecap="round" stroke-dasharray="0.1,3.5" stroke-linecap="round"/>
<path d="M67.91,339.32 L102.01,312.04 L133.63,307.9 L169.59,288.12 L218.03,248.24" fill="none" stroke="#1e921e" stroke-width="2.0" stroke-linejoin="round" stroke-linecap="round" stroke-dasharray="0.1,3.5" stroke-linecap="round"/>
<circle cx="67.91" cy="232.55" r="4" fill="url(#sphO)"/>
<circle cx="102.01" cy="235.72" r="4" fill="url(#sphO)"/>
<circle cx="133.63" cy="316.98" r="4" fill="url(#sphO)"/>
<circle cx="169.59" cy="340.59" r="4" fill="url(#sphO)"/>
<circle cx="218.03" cy="345.86" r="4" fill="url(#sphO)"/>
<circle cx="67.91" cy="339.32" r="4" fill="url(#sphG)"/>
<circle cx="102.01" cy="312.04" r="4" fill="url(#sphG)"/>
<circle cx="133.63" cy="307.9" r="4" fill="url(#sphG)"/>
<circle cx="169.59" cy="288.12" r="4" fill="url(#sphG)"/>
<circle cx="218.03" cy="248.24" r="4" fill="url(#sphG)"/>
<line x1="41.25" y1="211.8" x2="41.25" y2="370.1" stroke="#1f1f1f" stroke-width="1.5" />
<line x1="239.1" y1="211.8" x2="239.1" y2="370.1" stroke="#1f1f1f" stroke-width="1.5" />
<line x1="40.65" y1="211.8" x2="177.5" y2="211.8" stroke="#1f1f1f" stroke-width="1.5" />
<line x1="182.5" y1="211.8" x2="239.7" y2="211.8" stroke="#1f1f1f" stroke-width="1.5" />
<line x1="40.65" y1="370.1" x2="177.5" y2="370.1" stroke="#1f1f1f" stroke-width="1.5" />
<line x1="182.5" y1="370.1" x2="239.7" y2="370.1" stroke="#1f1f1f" stroke-width="1.5" />
<rect x="177.5" y="209.3" width="5" height="5" fill="#fff"/>
<line x1="176.2" y1="214.1" x2="179.6" y2="209.5" stroke="#1f1f1f" stroke-width="1.1" />
<line x1="180.4" y1="214.1" x2="183.8" y2="209.5" stroke="#1f1f1f" stroke-width="1.1" />
<rect x="177.5" y="367.6" width="5" height="5" fill="#fff"/>
<line x1="176.2" y1="372.4" x2="179.6" y2="367.8" stroke="#1f1f1f" stroke-width="1.1" />
<line x1="180.4" y1="372.4" x2="183.8" y2="367.8" stroke="#1f1f1f" stroke-width="1.1" />
<line x1="41.25" y1="370.1" x2="44.75" y2="370.1" stroke="#1f1f1f" stroke-width="1" />
<text x="37.2" y="373.6" font-family="Liberation Sans" font-size="10" font-weight="normal" fill="#1a1a1a" text-anchor="end" >680</text>
<line x1="41.25" y1="338.2" x2="44.75" y2="338.2" stroke="#1f1f1f" stroke-width="1" />
<text x="37.2" y="341.7" font-family="Liberation Sans" font-size="10" font-weight="normal" fill="#1a1a1a" text-anchor="end" >700</text>
<line x1="41.25" y1="306.3" x2="44.75" y2="306.3" stroke="#1f1f1f" stroke-width="1" />
<text x="37.2" y="309.8" font-family="Liberation Sans" font-size="10" font-weight="normal" fill="#1a1a1a" text-anchor="end" >720</text>
<line x1="41.25" y1="274.4" x2="44.75" y2="274.4" stroke="#1f1f1f" stroke-width="1" />
<text x="37.2" y="277.9" font-family="Liberation Sans" font-size="10" font-weight="normal" fill="#1a1a1a" text-anchor="end" >740</text>
<line x1="41.25" y1="242.5" x2="44.75" y2="242.5" stroke="#1f1f1f" stroke-width="1" />
<text x="37.2" y="246" font-family="Liberation Sans" font-size="10" font-weight="normal" fill="#1a1a1a" text-anchor="end" >760</text>
<line x1="41.25" y1="354.15" x2="43.05" y2="354.15" stroke="#1f1f1f" stroke-width="1" />
<line x1="41.25" y1="322.25" x2="43.05" y2="322.25" stroke="#1f1f1f" stroke-width="1" />
<line x1="41.25" y1="290.35" x2="43.05" y2="290.35" stroke="#1f1f1f" stroke-width="1" />
<line x1="41.25" y1="258.45" x2="43.05" y2="258.45" stroke="#1f1f1f" stroke-width="1" />
<line x1="41.25" y1="226.55" x2="43.05" y2="226.55" stroke="#1f1f1f" stroke-width="1" />
<line x1="239.1" y1="370.1" x2="235.6" y2="370.1" stroke="#1f1f1f" stroke-width="1" />
<text x="244" y="373.6" font-family="Liberation Sans" font-size="10" font-weight="normal" fill="#1a1a1a" text-anchor="start" >100</text>
<line x1="239.1" y1="317.4" x2="235.6" y2="317.4" stroke="#1f1f1f" stroke-width="1" />
<text x="244" y="320.9" font-family="Liberation Sans" font-size="10" font-weight="normal" fill="#1a1a1a" text-anchor="start" >200</text>
<line x1="239.1" y1="264.7" x2="235.6" y2="264.7" stroke="#1f1f1f" stroke-width="1" />
<text x="244" y="268.2" font-family="Liberation Sans" font-size="10" font-weight="normal" fill="#1a1a1a" text-anchor="start" >300</text>
<line x1="239.1" y1="212" x2="235.6" y2="212" stroke="#1f1f1f" stroke-width="1" />
<text x="244" y="215.5" font-family="Liberation Sans" font-size="10" font-weight="normal" fill="#1a1a1a" text-anchor="start" >400</text>
<line x1="239.1" y1="343.75" x2="237.3" y2="343.75" stroke="#1f1f1f" stroke-width="1" />
<line x1="239.1" y1="291.05" x2="237.3" y2="291.05" stroke="#1f1f1f" stroke-width="1" />
<line x1="239.1" y1="238.35" x2="237.3" y2="238.35" stroke="#1f1f1f" stroke-width="1" />
<line x1="41.25" y1="370.1" x2="41.25" y2="366.8" stroke="#1f1f1f" stroke-width="1" />
<text x="41.25" y="382" font-family="Liberation Sans" font-size="10" font-weight="normal" fill="#1a1a1a" text-anchor="middle" >0</text>
<line x1="72.25" y1="370.1" x2="72.25" y2="366.8" stroke="#1f1f1f" stroke-width="1" />
<text x="72.25" y="382" font-family="Liberation Sans" font-size="10" font-weight="normal" fill="#1a1a1a" text-anchor="middle" >5</text>
<line x1="103.25" y1="370.1" x2="103.25" y2="366.8" stroke="#1f1f1f" stroke-width="1" />
<text x="103.25" y="382" font-family="Liberation Sans" font-size="10" font-weight="normal" fill="#1a1a1a" text-anchor="middle" >10</text>
<line x1="134.25" y1="370.1" x2="134.25" y2="366.8" stroke="#1f1f1f" stroke-width="1" />
<text x="134.25" y="382" font-family="Liberation Sans" font-size="10" font-weight="normal" fill="#1a1a1a" text-anchor="middle" >15</text>
<line x1="165.25" y1="370.1" x2="165.25" y2="366.8" stroke="#1f1f1f" stroke-width="1" />
<text x="165.25" y="382" font-family="Liberation Sans" font-size="10" font-weight="normal" fill="#1a1a1a" text-anchor="middle" >20</text>
<line x1="209" y1="370.1" x2="209" y2="366.8" stroke="#1f1f1f" stroke-width="1" />
<text x="209" y="382" font-family="Liberation Sans" font-size="10" font-weight="normal" fill="#1a1a1a" text-anchor="middle" >52</text>
<line x1="239.1" y1="370.1" x2="239.1" y2="366.8" stroke="#1f1f1f" stroke-width="1" />
<text x="239.1" y="382" font-family="Liberation Sans" font-size="10" font-weight="normal" fill="#1a1a1a" text-anchor="middle" >53</text>
<line x1="56.75" y1="370.1" x2="56.75" y2="368.3" stroke="#1f1f1f" stroke-width="1" />
<line x1="87.75" y1="370.1" x2="87.75" y2="368.3" stroke="#1f1f1f" stroke-width="1" />
<line x1="118.75" y1="370.1" x2="118.75" y2="368.3" stroke="#1f1f1f" stroke-width="1" />
<line x1="149.75" y1="370.1" x2="149.75" y2="368.3" stroke="#1f1f1f" stroke-width="1" />
<line x1="224.05" y1="370.1" x2="224.05" y2="368.3" stroke="#1f1f1f" stroke-width="1" />
<line x1="171.5" y1="370.1" x2="171.5" y2="368.3" stroke="#1f1f1f" stroke-width="1" />
<line x1="193.7" y1="370.1" x2="193.7" y2="368.3" stroke="#1f1f1f" stroke-width="1" />
<line x1="63" y1="357.6" x2="82.7" y2="357.6" stroke="#3cae6e" stroke-width="1.6" />
<path d="M58.2,357.6 L64.2,355.2 L64.2,360 Z" fill="#2ea868"/>
<line x1="199.4" y1="356.8" x2="219.5" y2="356.8" stroke="#ef8a3a" stroke-width="1.6" />
<path d="M225.2,356.8 L219,354.4 L219,359.2 Z" fill="#ef8026"/>
<text x="140.5" y="400.3" font-family="Liberation Sans" font-size="12" font-weight="bold" fill="#111" text-anchor="middle" >Thickness (nm)</text>
<text x="14.4" y="291.6" font-family="Liberation Sans" font-size="12" font-weight="bold" fill="#111" text-anchor="middle" transform="rotate(-90 14.4 291.6)" >PL peak (nm)</text>
<text x="274.8" y="291" font-family="Liberation Sans" font-size="12.1" font-weight="bold" fill="#111" text-anchor="middle" transform="rotate(-90 274.8 291)" >PL FWHM (nm)</text>
<text x="279.6" y="218.5" font-family="Liberation Sans" font-size="15.5" font-weight="bold" fill="#111" text-anchor="start" >(d)</text>
<text x="299.7" y="286.4" font-family="Liberation Sans" font-size="12.2" font-weight="bold" fill="#111" text-anchor="middle" transform="rotate(-90 299.7 286.4)" >PL intenstiy (a.u.)</text>
<path d="M322.48,356.89 L323.48,356.88 L324.48,356.88 L325.48,356.87 L326.48,356.86 L327.48,356.85 L328.48,356.83 L329.48,356.81 L330.48,356.78 L331.48,356.75 L332.48,356.7 L333.48,356.65 L334.48,356.58 L335.48,356.49 L336.48,356.38 L337.48,356.25 L338.48,356.08 L339.48,355.88 L340.48,355.64 L341.48,355.35 L342.48,355 L343.48,354.58 L344.48,354.09 L345.48,353.51 L346.48,352.83 L347.48,352.05 L348.48,351.14 L349.48,350.11 L350.48,348.93 L351.48,347.59 L352.48,346.1 L353.48,344.42 L354.48,342.57 L355.48,340.53 L356.48,338.3 L357.48,335.88 L358.48,333.27 L359.48,330.49 L360.48,327.53 L361.48,324.42 L362.48,321.17 L363.48,317.82 L364.48,314.37 L365.48,310.87 L366.48,307.36 L367.48,303.86 L368.48,300.42 L369.48,297.08 L370.48,293.89 L371.48,290.88 L372.48,288.1 L373.48,285.6 L374.48,283.4 L375.48,281.54 L376.48,280.05 L377.48,278.95 L378.48,278.27 L379.48,278 L380.48,278.16 L381.48,278.75 L382.48,279.75 L383.48,281.15 L384.48,282.92 L385.48,285.04 L386.48,287.48 L387.48,290.19 L388.48,293.15 L389.48,296.3 L390.48,299.61 L391.48,303.03 L392.48,306.51 L393.48,310.03 L394.48,313.54 L395.48,317 L396.48,320.38 L397.48,323.65 L398.48,326.8 L399.48,329.79 L400.48,332.62 L401.48,335.27 L402.48,337.74 L403.48,340.01 L404.48,342.1 L405.48,344 L406.48,345.71 L407.48,347.25 L408.48,348.62 L409.48,349.84 L410.48,350.91 L411.48,351.84 L412.48,352.66 L413.48,353.36 L414.48,353.96 L415.48,354.47 L416.48,354.9 L417.48,355.27 L418.48,355.57 L419.48,355.83 L420.48,356.04 L421.48,356.21 L422.48,356.35 L423.48,356.47 L424.48,356.56 L425.48,356.63 L426.48,356.69 L427.48,356.74 L428.48,356.78 L429.48,356.81 L430.48,356.83 L431.48,356.85 L432.48,356.86 L433.48,356.87 L434.48,356.88 L435.48,356.88 L436.48,356.89 L436.48,356.9 L322.48,356.9 Z" fill="url(#gB)" fill-opacity="1" stroke="none" clip-path="url(#cd)"/>
<path d="M322.48,356.89 L323.48,356.88 L324.48,356.88 L325.48,356.87 L326.48,356.86 L327.48,356.85 L328.48,356.83 L329.48,356.81 L330.48,356.78 L331.48,356.75 L332.48,356.7 L333.48,356.65 L334.48,356.58 L335.48,356.49 L336.48,356.38 L337.48,356.25 L338.48,356.08 L339.48,355.88 L340.48,355.64 L341.48,355.35 L342.48,355 L343.48,354.58 L344.48,354.09 L345.48,353.51 L346.48,352.83 L347.48,352.05 L348.48,351.14 L349.48,350.11 L350.48,348.93 L351.48,347.59 L352.48,346.1 L353.48,344.42 L354.48,342.57 L355.48,340.53 L356.48,338.3 L357.48,335.88 L358.48,333.27 L359.48,330.49 L360.48,327.53 L361.48,324.42 L362.48,321.17 L363.48,317.82 L364.48,314.37 L365.48,310.87 L366.48,307.36 L367.48,303.86 L368.48,300.42 L369.48,297.08 L370.48,293.89 L371.48,290.88 L372.48,288.1 L373.48,285.6 L374.48,283.4 L375.48,281.54 L376.48,280.05 L377.48,278.95 L378.48,278.27 L379.48,278 L380.48,278.16 L381.48,278.75 L382.48,279.75 L383.48,281.15 L384.48,282.92 L385.48,285.04 L386.48,287.48 L387.48,290.19 L388.48,293.15 L389.48,296.3 L390.48,299.61 L391.48,303.03 L392.48,306.51 L393.48,310.03 L394.48,313.54 L395.48,317 L396.48,320.38 L397.48,323.65 L398.48,326.8 L399.48,329.79 L400.48,332.62 L401.48,335.27 L402.48,337.74 L403.48,340.01 L404.48,342.1 L405.48,344 L406.48,345.71 L407.48,347.25 L408.48,348.62 L409.48,349.84 L410.48,350.91 L411.48,351.84 L412.48,352.66 L413.48,353.36 L414.48,353.96 L415.48,354.47 L416.48,354.9 L417.48,355.27 L418.48,355.57 L419.48,355.83 L420.48,356.04 L421.48,356.21 L422.48,356.35 L423.48,356.47 L424.48,356.56 L425.48,356.63 L426.48,356.69 L427.48,356.74 L428.48,356.78 L429.48,356.81 L430.48,356.83 L431.48,356.85 L432.48,356.86 L433.48,356.87 L434.48,356.88 L435.48,356.88 L436.48,356.89" fill="none" stroke="#7a78cc" stroke-width="0.8" clip-path="url(#cd)"/>
<path d="M325.3,356.89 L326.3,356.89 L327.3,356.88 L328.3,356.88 L329.3,356.87 L330.3,356.87 L331.3,356.86 L332.3,356.85 L333.3,356.84 L334.3,356.82 L335.3,356.81 L336.3,356.78 L337.3,356.76 L338.3,356.73 L339.3,356.69 L340.3,356.64 L341.3,356.59 L342.3,356.53 L343.3,356.45 L344.3,356.36 L345.3,356.26 L346.3,356.14 L347.3,356 L348.3,355.84 L349.3,355.65 L350.3,355.43 L351.3,355.18 L352.3,354.9 L353.3,354.57 L354.3,354.2 L355.3,353.79 L356.3,353.32 L357.3,352.79 L358.3,352.2 L359.3,351.55 L360.3,350.82 L361.3,350.01 L362.3,349.13 L363.3,348.16 L364.3,347.1 L365.3,345.95 L366.3,344.71 L367.3,343.36 L368.3,341.92 L369.3,340.38 L370.3,338.74 L371.3,337 L372.3,335.17 L373.3,333.24 L374.3,331.23 L375.3,329.14 L376.3,326.97 L377.3,324.74 L378.3,322.46 L379.3,320.13 L380.3,317.78 L381.3,315.41 L382.3,313.05 L383.3,310.69 L384.3,308.37 L385.3,306.1 L386.3,303.9 L387.3,301.78 L388.3,299.77 L389.3,297.87 L390.3,296.11 L391.3,294.5 L392.3,293.06 L393.3,291.8 L394.3,290.72 L395.3,289.85 L396.3,289.19 L397.3,288.75 L398.3,288.53 L399.3,288.53 L400.3,288.75 L401.3,289.19 L402.3,289.85 L403.3,290.72 L404.3,291.8 L405.3,293.06 L406.3,294.5 L407.3,296.11 L408.3,297.87 L409.3,299.77 L410.3,301.78 L411.3,303.9 L412.3,306.1 L413.3,308.37 L414.3,310.69 L415.3,313.05 L416.3,315.41 L417.3,317.78 L418.3,320.13 L419.3,322.46 L420.3,324.74 L421.3,326.97 L422.3,329.14 L423.3,331.23 L424.3,333.24 L425.3,335.17 L426.3,337 L427.3,338.74 L428.3,340.38 L429.3,341.92 L430.3,343.36 L431.3,344.71 L432.3,345.95 L433.3,347.1 L434.3,348.16 L435.3,349.13 L436.3,350.01 L437.3,350.82 L438.3,351.55 L439.3,352.2 L440.3,352.79 L441.3,353.32 L442.3,353.79 L443.3,354.2 L444.3,354.57 L445.3,354.9 L446.3,355.18 L447.3,355.43 L448.3,355.65 L449.3,355.84 L450.3,356 L451.3,356.14 L452.3,356.26 L453.3,356.36 L454.3,356.45 L455.3,356.53 L456.3,356.59 L457.3,356.64 L458.3,356.69 L459.3,356.73 L460.3,356.76 L461.3,356.78 L462.3,356.81 L463.3,356.82 L464.3,356.84 L465.3,356.85 L466.3,356.86 L467.3,356.87 L468.3,356.87 L469.3,356.88 L470.3,356.88 L471.3,356.89 L472.3,356.89 L472.3,356.9 L325.3,356.9 Z" fill="url(#gG)" fill-opacity="1" stroke="none" clip-path="url(#cd)"/>
<path d="M325.3,356.89 L326.3,356.89 L327.3,356.88 L328.3,356.88 L329.3,356.87 L330.3,356.87 L331.3,356.86 L332.3,356.85 L333.3,356.84 L334.3,356.82 L335.3,356.81 L336.3,356.78 L337.3,356.76 L338.3,356.73 L339.3,356.69 L340.3,356.64 L341.3,356.59 L342.3,356.53 L343.3,356.45 L344.3,356.36 L345.3,356.26 L346.3,356.14 L347.3,356 L348.3,355.84 L349.3,355.65 L350.3,355.43 L351.3,355.18 L352.3,354.9 L353.3,354.57 L354.3,354.2 L355.3,353.79 L356.3,353.32 L357.3,352.79 L358.3,352.2 L359.3,351.55 L360.3,350.82 L361.3,350.01 L362.3,349.13 L363.3,348.16 L364.3,347.1 L365.3,345.95 L366.3,344.71 L367.3,343.36 L368.3,341.92 L369.3,340.38 L370.3,338.74 L371.3,337 L372.3,335.17 L373.3,333.24 L374.3,331.23 L375.3,329.14 L376.3,326.97 L377.3,324.74 L378.3,322.46 L379.3,320.13 L380.3,317.78 L381.3,315.41 L382.3,313.05 L383.3,310.69 L384.3,308.37 L385.3,306.1 L386.3,303.9 L387.3,301.78 L388.3,299.77 L389.3,297.87 L390.3,296.11 L391.3,294.5 L392.3,293.06 L393.3,291.8 L394.3,290.72 L395.3,289.85 L396.3,289.19 L397.3,288.75 L398.3,288.53 L399.3,288.53 L400.3,288.75 L401.3,289.19 L402.3,289.85 L403.3,290.72 L404.3,291.8 L405.3,293.06 L406.3,294.5 L407.3,296.11 L408.3,297.87 L409.3,299.77 L410.3,301.78 L411.3,303.9 L412.3,306.1 L413.3,308.37 L414.3,310.69 L415.3,313.05 L416.3,315.41 L417.3,317.78 L418.3,320.13 L419.3,322.46 L420.3,324.74 L421.3,326.97 L422.3,329.14 L423.3,331.23 L424.3,333.24 L425.3,335.17 L426.3,337 L427.3,338.74 L428.3,340.38 L429.3,341.92 L430.3,343.36 L431.3,344.71 L432.3,345.95 L433.3,347.1 L434.3,348.16 L435.3,349.13 L436.3,350.01 L437.3,350.82 L438.3,351.55 L439.3,352.2 L440.3,352.79 L441.3,353.32 L442.3,353.79 L443.3,354.2 L444.3,354.57 L445.3,354.9 L446.3,355.18 L447.3,355.43 L448.3,355.65 L449.3,355.84 L450.3,356 L451.3,356.14 L452.3,356.26 L453.3,356.36 L454.3,356.45 L455.3,356.53 L456.3,356.59 L457.3,356.64 L458.3,356.69 L459.3,356.73 L460.3,356.76 L461.3,356.78 L462.3,356.81 L463.3,356.82 L464.3,356.84 L465.3,356.85 L466.3,356.86 L467.3,356.87 L468.3,356.87 L469.3,356.88 L470.3,356.88 L471.3,356.89 L472.3,356.89" fill="none" stroke="#5aa88a" stroke-width="0.8" clip-path="url(#cd)"/>
<path d="M323.8,356.9 L324.8,356.9 L325.8,356.9 L326.8,356.9 L327.8,356.9 L328.8,356.89 L329.8,356.89 L330.8,356.89 L331.8,356.89 L332.8,356.89 L333.8,356.89 L334.8,356.89 L335.8,356.89 L336.8,356.88 L337.8,356.88 L338.8,356.88 L339.8,356.87 L340.8,356.87 L341.8,356.87 L342.8,356.86 L343.8,356.86 L344.8,356.85 L345.8,356.84 L346.8,356.84 L347.8,356.83 L348.8,356.82 L349.8,356.81 L350.8,356.79 L351.8,356.78 L352.8,356.76 L353.8,356.75 L354.8,356.73 L355.8,356.71 L356.8,356.68 L357.8,356.66 L358.8,356.63 L359.8,356.6 L360.8,356.57 L361.8,356.53 L362.8,356.49 L363.8,356.44 L364.8,356.39 L365.8,356.34 L366.8,356.28 L367.8,356.22 L368.8,356.15 L369.8,356.08 L370.8,356 L371.8,355.91 L372.8,355.82 L373.8,355.72 L374.8,355.61 L375.8,355.5 L376.8,355.37 L377.8,355.24 L378.8,355.1 L379.8,354.95 L380.8,354.79 L381.8,354.63 L382.8,354.45 L383.8,354.26 L384.8,354.07 L385.8,353.86 L386.8,353.64 L387.8,353.41 L388.8,353.18 L389.8,352.93 L390.8,352.67 L391.8,352.4 L392.8,352.12 L393.8,351.83 L394.8,351.53 L395.8,351.22 L396.8,350.91 L397.8,350.58 L398.8,350.25 L399.8,349.91 L400.8,349.56 L401.8,349.21 L402.8,348.85 L403.8,348.49 L404.8,348.13 L405.8,347.76 L406.8,347.39 L407.8,347.02 L408.8,346.65 L409.8,346.29 L410.8,345.93 L411.8,345.57 L412.8,345.22 L413.8,344.87 L414.8,344.53 L415.8,344.21 L416.8,343.89 L417.8,343.58 L418.8,343.29 L419.8,343.01 L420.8,342.75 L421.8,342.5 L422.8,342.27 L423.8,342.06 L424.8,341.87 L425.8,341.69 L426.8,341.54 L427.8,341.41 L428.8,341.3 L429.8,341.22 L430.8,341.16 L431.8,341.12 L432.8,341.1 L433.8,341.11 L434.8,341.14 L435.8,341.19 L436.8,341.27 L437.8,341.37 L438.8,341.49 L439.8,341.63 L440.8,341.8 L441.8,341.98 L442.8,342.18 L443.8,342.41 L444.8,342.65 L445.8,342.9 L446.8,343.18 L447.8,343.46 L448.8,343.76 L449.8,344.08 L450.8,344.4 L451.8,344.73 L452.8,345.08 L453.8,345.43 L454.8,345.78 L455.8,346.14 L456.8,346.51 L457.8,346.87 L458.8,347.24 L459.8,347.61 L460.8,347.98 L461.8,348.34 L462.8,348.71 L463.8,349.07 L464.8,349.42 L465.8,349.77 L466.8,350.11 L467.8,350.45 L468.8,350.78 L469.8,351.1 L470.8,351.41 L471.8,351.71 L472.8,352 L473.8,352.29 L474.8,352.56 L475.8,352.82 L476.8,353.08 L477.8,353.32 L478.8,353.55 L479.8,353.77 L480.8,353.98 L481.8,354.19 L482.8,354.38 L483.8,354.56 L484.8,354.73 L485.8,354.89 L486.8,355.04 L487.8,355.19 L488.8,355.32 L489.8,355.45 L490.8,355.56 L491.8,355.68 L492.8,355.78 L493.8,355.87 L494.8,355.96 L495.8,356.05 L496.8,356.12 L497.8,356.19 L498.8,356.26 L499.8,356.32 L500.8,356.37 L501.8,356.42 L502.8,356.47 L503.8,356.51 L504.8,356.55 L505.8,356.59 L506.8,356.62 L507.8,356.65 L508.8,356.67 L509.8,356.7 L510.8,356.72 L511.8,356.74 L512.8,356.76 L513.8,356.77 L514.8,356.79 L515.8,356.8 L516.8,356.81 L517.8,356.82 L518.8,356.83 L519.8,356.84 L520.8,356.85 L521.8,356.85 L522.8,356.86 L523.8,356.86 L524.8,356.87 L525.8,356.87 L526.8,356.88 L527.8,356.88 L528.8,356.88 L529.8,356.88 L530.8,356.89 L531.8,356.89 L532.8,356.89 L533.8,356.89 L534.8,356.89 L535.8,356.89 L536.8,356.89 L537.8,356.9 L538.8,356.9 L539.8,356.9 L540.8,356.9 L541.8,356.9 L541.8,356.9 L323.8,356.9 Z" fill="url(#gR)" fill-opacity="1" stroke="none" clip-path="url(#cd)"/>
<path d="M323.8,356.9 L324.8,356.9 L325.8,356.9 L326.8,356.9 L327.8,356.9 L328.8,356.89 L329.8,356.89 L330.8,356.89 L331.8,356.89 L332.8,356.89 L333.8,356.89 L334.8,356.89 L335.8,356.89 L336.8,356.88 L337.8,356.88 L338.8,356.88 L339.8,356.87 L340.8,356.87 L341.8,356.87 L342.8,356.86 L343.8,356.86 L344.8,356.85 L345.8,356.84 L346.8,356.84 L347.8,356.83 L348.8,356.82 L349.8,356.81 L350.8,356.79 L351.8,356.78 L352.8,356.76 L353.8,356.75 L354.8,356.73 L355.8,356.71 L356.8,356.68 L357.8,356.66 L358.8,356.63 L359.8,356.6 L360.8,356.57 L361.8,356.53 L362.8,356.49 L363.8,356.44 L364.8,356.39 L365.8,356.34 L366.8,356.28 L367.8,356.22 L368.8,356.15 L369.8,356.08 L370.8,356 L371.8,355.91 L372.8,355.82 L373.8,355.72 L374.8,355.61 L375.8,355.5 L376.8,355.37 L377.8,355.24 L378.8,355.1 L379.8,354.95 L380.8,354.79 L381.8,354.63 L382.8,354.45 L383.8,354.26 L384.8,354.07 L385.8,353.86 L386.8,353.64 L387.8,353.41 L388.8,353.18 L389.8,352.93 L390.8,352.67 L391.8,352.4 L392.8,352.12 L393.8,351.83 L394.8,351.53 L395.8,351.22 L396.8,350.91 L397.8,350.58 L398.8,350.25 L399.8,349.91 L400.8,349.56 L401.8,349.21 L402.8,348.85 L403.8,348.49 L404.8,348.13 L405.8,347.76 L406.8,347.39 L407.8,347.02 L408.8,346.65 L409.8,346.29 L410.8,345.93 L411.8,345.57 L412.8,345.22 L413.8,344.87 L414.8,344.53 L415.8,344.21 L416.8,343.89 L417.8,343.58 L418.8,343.29 L419.8,343.01 L420.8,342.75 L421.8,342.5 L422.8,342.27 L423.8,342.06 L424.8,341.87 L425.8,341.69 L426.8,341.54 L427.8,341.41 L428.8,341.3 L429.8,341.22 L430.8,341.16 L431.8,341.12 L432.8,341.1 L433.8,341.11 L434.8,341.14 L435.8,341.19 L436.8,341.27 L437.8,341.37 L438.8,341.49 L439.8,341.63 L440.8,341.8 L441.8,341.98 L442.8,342.18 L443.8,342.41 L444.8,342.65 L445.8,342.9 L446.8,343.18 L447.8,343.46 L448.8,343.76 L449.8,344.08 L450.8,344.4 L451.8,344.73 L452.8,345.08 L453.8,345.43 L454.8,345.78 L455.8,346.14 L456.8,346.51 L457.8,346.87 L458.8,347.24 L459.8,347.61 L460.8,347.98 L461.8,348.34 L462.8,348.71 L463.8,349.07 L464.8,349.42 L465.8,349.77 L466.8,350.11 L467.8,350.45 L468.8,350.78 L469.8,351.1 L470.8,351.41 L471.8,351.71 L472.8,352 L473.8,352.29 L474.8,352.56 L475.8,352.82 L476.8,353.08 L477.8,353.32 L478.8,353.55 L479.8,353.77 L480.8,353.98 L481.8,354.19 L482.8,354.38 L483.8,354.56 L484.8,354.73 L485.8,354.89 L486.8,355.04 L487.8,355.19 L488.8,355.32 L489.8,355.45 L490.8,355.56 L491.8,355.68 L492.8,355.78 L493.8,355.87 L494.8,355.96 L495.8,356.05 L496.8,356.12 L497.8,356.19 L498.8,356.26 L499.8,356.32 L500.8,356.37 L501.8,356.42 L502.8,356.47 L503.8,356.51 L504.8,356.55 L505.8,356.59 L506.8,356.62 L507.8,356.65 L508.8,356.67 L509.8,356.7 L510.8,356.72 L511.8,356.74 L512.8,356.76 L513.8,356.77 L514.8,356.79 L515.8,356.8 L516.8,356.81 L517.8,356.82 L518.8,356.83 L519.8,356.84 L520.8,356.85 L521.8,356.85 L522.8,356.86 L523.8,356.86 L524.8,356.87 L525.8,356.87 L526.8,356.88 L527.8,356.88 L528.8,356.88 L529.8,356.88 L530.8,356.89 L531.8,356.89 L532.8,356.89 L533.8,356.89 L534.8,356.89 L535.8,356.89 L536.8,356.89 L537.8,356.9 L538.8,356.9 L539.8,356.9 L540.8,356.9 L541.8,356.9" fill="none" stroke="#d88a9a" stroke-width="0.8" clip-path="url(#cd)"/>
<line x1="310.3" y1="356.9" x2="508" y2="356.9" stroke="#b0a0b8" stroke-width="0.8" />
<path d="M310.8,357.6 L311.9,357.47 L313.46,357.28 L315.25,357.05 L317,356.8 L318.72,356.48 L320.51,356.09 L322.3,355.75 L324,355.6 L325.55,355.7 L327.02,355.99 L328.47,356.33 L330,356.6 L331.68,356.83 L333.46,357.05 L335.18,357.2 L336.7,357.2 L337.95,357.05 L339.01,356.78 L339.99,356.37 L341,355.8 L342.05,355.05 L343.1,354.13 L344.15,353.07 L345.2,351.9 L346.27,350.64 L347.35,349.26 L348.43,347.73 L349.5,346 L350.58,344.04 L351.66,341.88 L352.72,339.55 L353.7,337.1 L354.6,334.55 L355.42,331.89 L356.22,329.05 L357,326 L357.78,322.62 L358.54,318.98 L359.28,315.27 L360,311.7 L360.7,308.31 L361.38,304.99 L362.05,301.72 L362.7,298.5 L363.33,295.33 L363.95,292.21 L364.57,289.11 L365.2,286 L365.87,282.83 L366.56,279.62 L367.24,276.48 L367.9,273.5 L368.52,270.69 L369.12,268.02 L369.71,265.46 L370.3,263 L370.87,260.84 L371.41,258.91 L372,256.82 L372.7,254.2 L373.55,250.68 L374.51,246.55 L375.51,242.4 L376.5,238.8 L377.49,235.85 L378.49,233.27 L379.48,231.05 L380.4,229.2 L381.23,227.8 L381.99,226.82 L382.74,226.1 L383.5,225.5 L384.29,224.98 L385.09,224.63 L385.89,224.44 L386.7,224.4 L387.51,224.53 L388.31,224.82 L389.14,225.25 L390,225.8 L390.94,226.44 L391.92,227.19 L392.9,228.1 L393.8,229.2 L394.59,230.55 L395.31,232.11 L396,233.79 L396.7,235.5 L397.36,237.04 L397.97,238.53 L398.67,240.3 L399.6,242.7 L400.85,245.91 L402.32,249.73 L403.88,253.88 L405.4,258.1 L406.88,262.44 L408.37,267.01 L409.83,271.6 L411.2,276 L412.46,280.27 L413.63,284.49 L414.74,288.47 L415.8,292 L416.76,294.89 L417.64,297.3 L418.52,299.56 L419.5,302 L420.65,304.82 L421.9,307.8 L423.15,310.68 L424.3,313.2 L425.27,315.19 L426.13,316.83 L427,318.35 L428,320 L429.06,321.74 L430.14,323.48 L431.46,325.36 L433.2,327.5 L435.49,330.1 L438.19,333.04 L441.15,335.98 L444.2,338.6 L447.31,340.81 L450.57,342.79 L453.97,344.6 L457.5,346.3 L461.22,347.9 L465.11,349.38 L469.07,350.71 L473,351.9 L477.03,352.94 L481.17,353.82 L485.1,354.58 L488.5,355.2 L491.24,355.67 L493.51,355.99 L495.48,356.22 L497.3,356.4 L498.96,356.57 L500.4,356.7 L501.71,356.73 L503,356.6 L504.38,356.21 L505.76,355.61 L506.96,355.01 L507.8,354.6" fill="none" stroke="#f27b1f" stroke-width="3.6" stroke-linejoin="round" clip-path="url(#cd)"/>
<path d="M310.8,357.6 L311.9,357.47 L313.46,357.28 L315.25,357.05 L317,356.8 L318.72,356.48 L320.51,356.09 L322.3,355.75 L324,355.6 L325.55,355.7 L327.02,355.99 L328.47,356.33 L330,356.6 L331.68,356.83 L333.46,357.05 L335.18,357.2 L336.7,357.2 L337.95,357.05 L339.01,356.78 L339.99,356.37 L341,355.8 L342.05,355.05 L343.1,354.13 L344.15,353.07 L345.2,351.9 L346.27,350.64 L347.35,349.26 L348.43,347.73 L349.5,346 L350.58,344.04 L351.66,341.88 L352.72,339.55 L353.7,337.1 L354.6,334.55 L355.42,331.89 L356.22,329.05 L357,326 L357.78,322.62 L358.54,318.98 L359.28,315.27 L360,311.7 L360.7,308.31 L361.38,304.99 L362.05,301.72 L362.7,298.5 L363.33,295.33 L363.95,292.21 L364.57,289.11 L365.2,286 L365.87,282.83 L366.56,279.62 L367.24,276.48 L367.9,273.5 L368.52,270.69 L369.12,268.02 L369.71,265.46 L370.3,263 L370.87,260.84 L371.41,258.91 L372,256.82 L372.7,254.2 L373.55,250.68 L374.51,246.55 L375.51,242.4 L376.5,238.8 L377.49,235.85 L378.49,233.27 L379.48,231.05 L380.4,229.2 L381.23,227.8 L381.99,226.82 L382.74,226.1 L383.5,225.5 L384.29,224.98 L385.09,224.63 L385.89,224.44 L386.7,224.4 L387.51,224.53 L388.31,224.82 L389.14,225.25 L390,225.8 L390.94,226.44 L391.92,227.19 L392.9,228.1 L393.8,229.2 L394.59,230.55 L395.31,232.11 L396,233.79 L396.7,235.5 L397.36,237.04 L397.97,238.53 L398.67,240.3 L399.6,242.7 L400.85,245.91 L402.32,249.73 L403.88,253.88 L405.4,258.1 L406.88,262.44 L408.37,267.01 L409.83,271.6 L411.2,276 L412.46,280.27 L413.63,284.49 L414.74,288.47 L415.8,292 L416.76,294.89 L417.64,297.3 L418.52,299.56 L419.5,302 L420.65,304.82 L421.9,307.8 L423.15,310.68 L424.3,313.2 L425.27,315.19 L426.13,316.83 L427,318.35 L428,320 L429.06,321.74 L430.14,323.48 L431.46,325.36 L433.2,327.5 L435.49,330.1 L438.19,333.04 L441.15,335.98 L444.2,338.6 L447.31,340.81 L450.57,342.79 L453.97,344.6 L457.5,346.3 L461.22,347.9 L465.11,349.38 L469.07,350.71 L473,351.9 L477.03,352.94 L481.17,353.82 L485.1,354.58 L488.5,355.2 L491.24,355.67 L493.51,355.99 L495.48,356.22 L497.3,356.4 L498.96,356.57 L500.4,356.7 L501.71,356.73 L503,356.6 L504.38,356.21 L505.76,355.61 L506.96,355.01 L507.8,354.6" fill="none" stroke="#1a1008" stroke-width="1.9" stroke-dasharray="1.9,1.6" clip-path="url(#cd)"/>
<rect x="310.3" y="211.8" width="198" height="158.3" stroke="#1f1f1f" stroke-width="1.5" fill="none" />
<line x1="343.3" y1="370" x2="343.3" y2="366.5" stroke="#1f1f1f" stroke-width="1" />
<line x1="376.3" y1="370" x2="376.3" y2="366.5" stroke="#1f1f1f" stroke-width="1" />
<line x1="409.3" y1="370" x2="409.3" y2="366.5" stroke="#1f1f1f" stroke-width="1" />
<line x1="442.3" y1="370" x2="442.3" y2="366.5" stroke="#1f1f1f" stroke-width="1" />
<line x1="475.3" y1="370" x2="475.3" y2="366.5" stroke="#1f1f1f" stroke-width="1" />
<line x1="326.8" y1="370" x2="326.8" y2="368.2" stroke="#1f1f1f" stroke-width="1" />
<line x1="359.8" y1="370" x2="359.8" y2="368.2" stroke="#1f1f1f" stroke-width="1" />
<line x1="392.8" y1="370" x2="392.8" y2="368.2" stroke="#1f1f1f" stroke-width="1" />
<line x1="425.8" y1="370" x2="425.8" y2="368.2" stroke="#1f1f1f" stroke-width="1" />
<line x1="458.8" y1="370" x2="458.8" y2="368.2" stroke="#1f1f1f" stroke-width="1" />
<line x1="491.8" y1="370" x2="491.8" y2="368.2" stroke="#1f1f1f" stroke-width="1" />
<text x="310.3" y="382" font-family="Liberation Sans" font-size="10" font-weight="normal" fill="#1a1a1a" text-anchor="middle" >500</text>
<text x="343.3" y="382" font-family="Liberation Sans" font-size="10" font-weight="normal" fill="#1a1a1a" text-anchor="middle" >600</text>
<text x="376.3" y="382" font-family="Liberation Sans" font-size="10" font-weight="normal" fill="#1a1a1a" text-anchor="middle" >700</text>
<text x="409.3" y="382" font-family="Liberation Sans" font-size="10" font-weight="normal" fill="#1a1a1a" text-anchor="middle" >800</text>
<text x="442.3" y="382" font-family="Liberation Sans" font-size="10" font-weight="normal" fill="#1a1a1a" text-anchor="middle" >900</text>
<text x="475.3" y="382" font-family="Liberation Sans" font-size="10" font-weight="normal" fill="#1a1a1a" text-anchor="middle" >1000</text>
<text x="508.3" y="382" font-family="Liberation Sans" font-size="10" font-weight="normal" fill="#1a1a1a" text-anchor="middle" >1100</text>
<text x="409.5" y="400.2" font-family="Liberation Sans" font-size="12.2" font-weight="bold" fill="#111" text-anchor="middle" >Wavelength (nm)</text>
<text x="318.1" y="229" font-family="Liberation Sans" font-size="9.8" font-weight="bold" fill="#ef8a2a" text-anchor="start" >20.7 nm</text>
<circle cx="457" cy="220.3" r="2.1" fill="#f08a3a"/>
<text x="469.7" y="223.1" font-family="Liberation Sans" font-size="8.8" font-weight="bold" fill="#111" text-anchor="start" >Data</text>
<line x1="446.6" y1="233.6" x2="465.4" y2="233.6" stroke="#1a1a1a" stroke-width="1.8" stroke-dasharray="1.8,1.9"/>
<text x="472.4" y="236.4" font-family="Liberation Sans" font-size="8.8" font-weight="bold" fill="#111" text-anchor="start" >Fits</text>
<rect x="447.3" y="241.3" width="20" height="10" fill="url(#gB2)"/>
<text x="472.4" y="249.2" font-family="Liberation Sans" font-size="8.8" font-weight="bold" fill="#111" text-anchor="start" >710 nm</text>
<rect x="447.3" y="254.2" width="20" height="10" fill="url(#gG2)"/>
<text x="472.4" y="262.1" font-family="Liberation Sans" font-size="8.8" font-weight="bold" fill="#111" text-anchor="start" >769 nm</text>
<rect x="447.3" y="267" width="20" height="10" fill="url(#gR2)"/>
<text x="472.4" y="274.9" font-family="Liberation Sans" font-size="8.8" font-weight="bold" fill="#111" text-anchor="start" >871 nm</text>
<text x="0.6" y="416.3" font-family="Liberation Sans" font-size="15.5" font-weight="bold" fill="#111" text-anchor="start" >(e)</text>
<text x="30.1" y="496.7" font-family="Liberation Sans" font-size="12.2" font-weight="bold" fill="#111" text-anchor="middle" transform="rotate(-90 30.1 496.7)" >Absorption (a.u.)</text>
<path d="M41.3,539.36 L41.8,539.18 L42.3,538.94 L42.8,538.63 L43.3,538.29 L43.8,537.94 L44.3,537.58 L44.8,537.23 L45.3,536.87 L45.8,536.52 L46.3,536.17 L46.8,535.82 L47.3,535.49 L47.8,535.15 L48.3,534.83 L48.8,534.51 L49.3,534.21 L49.8,533.91 L50.3,533.62 L50.8,533.35 L51.3,533.07 L51.8,532.81 L52.3,532.55 L52.8,532.29 L53.3,532.04 L53.8,531.8 L54.3,531.55 L54.8,531.31 L55.3,531.07 L55.8,530.84 L56.3,530.6 L56.8,530.37 L57.3,530.14 L57.8,529.9 L58.3,529.66 L58.8,529.43 L59.3,529.19 L59.8,528.94 L60.3,528.7 L60.8,528.45 L61.3,528.19 L61.8,527.93 L62.3,527.66 L62.8,527.38 L63.3,527.09 L63.8,526.8 L64.3,526.5 L64.8,526.2 L65.3,525.9 L65.8,525.6 L66.3,525.29 L66.8,525 L67.3,524.7 L67.8,524.41 L68.3,524.13 L68.8,523.86 L69.3,523.59 L69.8,523.34 L70.3,523.1 L70.8,522.87 L71.3,522.66 L71.8,522.46 L72.3,522.28 L72.8,522.11 L73.3,521.95 L73.8,521.8 L74.3,521.65 L74.8,521.5 L75.3,521.36 L75.8,521.22 L76.3,521.09 L76.8,520.97 L77.3,520.86 L77.8,520.76 L78.3,520.68 L78.8,520.61 L79.3,520.56 L79.8,520.54 L80.3,520.53 L80.8,520.55 L81.3,520.59 L81.8,520.65 L82.3,520.73 L82.8,520.83 L83.3,520.95 L83.8,521.08 L84.3,521.23 L84.8,521.39 L85.3,521.56 L85.8,521.74 L86.3,521.93 L86.8,522.13 L87.3,522.34 L87.8,522.58 L88.3,522.85 L88.8,523.16 L89.3,523.52 L89.8,523.91 L90.3,524.34 L90.8,524.81 L91.3,525.3 L91.8,525.82 L92.3,526.36 L92.8,526.91 L93.3,527.47 L93.8,528.04 L94.3,528.61 L94.8,529.18 L95.3,529.75 L95.8,530.33 L96.3,530.93 L96.8,531.54 L97.3,532.18 L97.8,532.84 L98.3,533.52 L98.8,534.22 L99.3,534.92 L99.8,535.63 L100.3,536.34 L100.8,537.04 L101.3,537.73 L101.8,538.41 L102.3,539.06 L102.8,539.69 L103.3,540.29 L103.8,540.86 L104.3,541.41 L104.8,541.94 L105.3,542.46 L105.8,542.96 L106.3,543.46 L106.8,543.94 L107.3,544.4 L107.8,544.85 L108.3,545.28 L108.8,545.68 L109.3,546.07 L109.8,546.44 L110.3,546.79 L110.8,547.13 L111.3,547.47 L111.8,547.79 L112.3,548.1 L112.8,548.4 L113.3,548.68 L113.8,548.94 L114.3,549.18 L114.8,549.4 L115.3,549.58 L115.8,549.75 L116.3,549.89 L116.8,550.02 L117.3,550.14 L117.8,550.25 L118.3,550.36 L118.8,550.47 L119.3,550.57 L119.8,550.66 L120.3,550.76 L120.8,550.84 L121.3,550.93 L121.8,551 L122.3,551.08 L122.8,551.15 L123.3,551.21 L123.8,551.28 L124.3,551.33 L124.8,551.39 L125.3,551.44 L125.8,551.48 L126.3,551.52 L126.8,551.56 L127.3,551.6 L127.8,551.63 L128.3,551.66 L128.8,551.69 L129.3,551.72 L129.8,551.75 L130.3,551.78 L130.8,551.8 L131.3,551.82 L131.8,551.84 L132.3,551.86 L132.8,551.87 L133.3,551.88 L133.8,551.89 L134.3,551.89 L134.8,551.87 L135.3,551.85 L135.8,551.81 L136.3,551.75 L136.8,551.68 L137.3,551.59 L137.8,551.49 L138.3,551.38 L138.8,551.26 L139.3,551.14 L139.8,551 L140.3,550.86 L140.8,550.72 L141.3,550.57 L141.8,550.42 L142.3,550.27 L142.8,550.12 L143.3,549.97 L143.8,549.83 L144.3,549.69 L144.8,549.55 L145.3,549.42 L145.8,549.28 L146.3,549.14 L146.8,549 L147.3,548.86 L147.8,548.71 L148.3,548.55 L148.8,548.4 L149.3,548.24 L149.8,548.08 L150.3,547.93 L150.8,547.77 L151.3,547.61 L151.8,547.46 L152.3,547.31 L152.8,547.16 L153.3,547.01 L153.8,546.87 L154.3,546.73 L154.8,546.6 L155.3,546.47 L155.8,546.35 L156.3,546.23 L156.8,546.12 L157.3,546.01 L157.8,545.9 L158.3,545.79 L158.8,545.68 L159.3,545.57 L159.8,545.46 L160.3,545.35 L160.8,545.25 L161.3,545.14 L161.8,545.04 L162.3,544.93 L162.8,544.83 L163.3,544.73 L163.8,544.63 L164.3,544.53 L164.8,544.43 L165.3,544.34 L165.8,544.24 L166.3,544.15 L166.8,544.05 L167.3,543.96 L167.8,543.87 L168.3,543.78 L168.8,543.69 L169.3,543.6 L169.8,543.51 L170.3,543.43 L170.8,543.34 L171.3,543.26 L171.8,543.18 L172.3,543.1 L172.8,543.02 L173.3,542.94 L173.8,542.86 L174.3,542.78 L174.8,542.71 L175.3,542.64 L175.8,542.56 L176.3,542.49 L176.8,542.42 L177.3,542.36 L177.8,542.29 L178.3,542.22 L178.8,542.16 L179.3,542.1 L179.8,542.04 L180.3,541.98 L180.8,541.92 L181.3,541.86 L181.8,541.8 L182.3,541.74 L182.8,541.68 L183.3,541.62 L183.8,541.56 L184.3,541.49 L184.8,541.43 L185.3,541.37 L185.8,541.31 L186.3,541.25 L186.8,541.19 L187.3,541.13 L187.8,541.07 L188.3,541.01 L188.8,540.95 L189.3,540.89 L189.8,540.83 L190.3,540.77 L190.8,540.72 L191.3,540.66 L191.8,540.6 L192.3,540.54 L192.8,540.49 L193.3,540.43 L193.8,540.37 L194.3,540.32 L194.8,540.26 L195.3,540.21 L195.8,540.16 L196.3,540.1 L196.8,540.05 L197.3,540 L197.8,539.95 L198.3,539.9 L198.8,539.85 L199.3,539.8 L199.8,539.76 L200.3,539.71 L200.8,539.67 L201.3,539.62 L201.8,539.58 L202.3,539.54 L202.8,539.49 L203.3,539.45 L203.8,539.42 L204.3,539.38 L204.8,539.34 L205.3,539.31 L205.8,539.27 L206.3,539.24 L206.8,539.21 L207.3,539.18 L207.8,539.15 L208.3,539.12 L208.8,539.1 L209.3,539.07 L209.8,539.05 L210.3,539.03 L210.8,539.01 L211.3,538.99 L211.8,538.97 L212.3,538.96 L212.8,538.95 L213.3,538.93 L213.8,538.92 L214.3,538.92 L214.8,538.91 L215.3,538.91 L215.8,538.9 L216.3,538.9 L216.8,538.9 L217.3,538.9 L217.8,538.91 L218.3,538.91 L218.8,538.91 L219.3,538.92 L219.8,538.92 L220.3,538.93 L220.8,538.94 L221.3,538.95 L221.8,538.95 L222.3,538.96 L222.8,538.97 L223.3,538.98 L223.8,538.99 L224.3,539 L224.8,539.02 L225.3,539.03 L225.8,539.04 L226.3,539.05 L226.8,539.07 L227.3,539.08 L227.8,539.09 L228.3,539.11 L228.8,539.12 L229.3,539.14 L229.8,539.15 L230.3,539.16 L230.8,539.18 L231.3,539.19 L231.8,539.21 L232.3,539.22 L232.8,539.24 L233.3,539.25 L233.8,539.27 L234.3,539.28 L234.8,539.29 L235.3,539.31 L235.8,539.32 L236.3,539.33 L236.8,539.35 L237.3,539.36 L237.8,539.37 L238.3,539.38 L238.8,539.39 L239,539.39" fill="none" stroke="#d42030" stroke-width="1.8" stroke-linejoin="round" stroke-linecap="round" />
<path d="M41.3,539.22 L41.8,538.98 L42.3,538.64 L42.8,538.22 L43.3,537.76 L43.8,537.28 L44.3,536.79 L44.8,536.31 L45.3,535.83 L45.8,535.34 L46.3,534.86 L46.8,534.37 L47.3,533.89 L47.8,533.41 L48.3,532.93 L48.8,532.45 L49.3,531.98 L49.8,531.5 L50.3,531.03 L50.8,530.56 L51.3,530.08 L51.8,529.62 L52.3,529.15 L52.8,528.68 L53.3,528.21 L53.8,527.75 L54.3,527.28 L54.8,526.81 L55.3,526.35 L55.8,525.89 L56.3,525.42 L56.8,524.96 L57.3,524.5 L57.8,524.04 L58.3,523.57 L58.8,523.11 L59.3,522.65 L59.8,522.19 L60.3,521.72 L60.8,521.26 L61.3,520.79 L61.8,520.31 L62.3,519.82 L62.8,519.31 L63.3,518.79 L63.8,518.27 L64.3,517.73 L64.8,517.19 L65.3,516.65 L65.8,516.11 L66.3,515.57 L66.8,515.05 L67.3,514.53 L67.8,514.02 L68.3,513.53 L68.8,513.05 L69.3,512.6 L69.8,512.17 L70.3,511.77 L70.8,511.4 L71.3,511.06 L71.8,510.75 L72.3,510.47 L72.8,510.23 L73.3,510 L73.8,509.79 L74.3,509.58 L74.8,509.38 L75.3,509.19 L75.8,509 L76.3,508.81 L76.8,508.64 L77.3,508.47 L77.8,508.31 L78.3,508.16 L78.8,508.02 L79.3,507.9 L79.8,507.78 L80.3,507.68 L80.8,507.6 L81.3,507.53 L81.8,507.48 L82.3,507.45 L82.8,507.44 L83.3,507.45 L83.8,507.5 L84.3,507.59 L84.8,507.71 L85.3,507.87 L85.8,508.05 L86.3,508.27 L86.8,508.51 L87.3,508.77 L87.8,509.06 L88.3,509.36 L88.8,509.67 L89.3,509.99 L89.8,510.33 L90.3,510.67 L90.8,511.04 L91.3,511.43 L91.8,511.87 L92.3,512.35 L92.8,512.87 L93.3,513.45 L93.8,514.06 L94.3,514.72 L94.8,515.4 L95.3,516.12 L95.8,516.86 L96.3,517.63 L96.8,518.42 L97.3,519.22 L97.8,520.03 L98.3,520.86 L98.8,521.71 L99.3,522.59 L99.8,523.52 L100.3,524.5 L100.8,525.54 L101.3,526.61 L101.8,527.7 L102.3,528.8 L102.8,529.89 L103.3,530.95 L103.8,531.97 L104.3,532.96 L104.8,533.91 L105.3,534.83 L105.8,535.73 L106.3,536.61 L106.8,537.48 L107.3,538.33 L107.8,539.15 L108.3,539.95 L108.8,540.73 L109.3,541.47 L109.8,542.19 L110.3,542.89 L110.8,543.57 L111.3,544.23 L111.8,544.88 L112.3,545.51 L112.8,546.12 L113.3,546.7 L113.8,547.26 L114.3,547.79 L114.8,548.29 L115.3,548.75 L115.8,549.19 L116.3,549.59 L116.8,549.98 L117.3,550.36 L117.8,550.73 L118.3,551.08 L118.8,551.43 L119.3,551.78 L119.8,552.11 L120.3,552.43 L120.8,552.74 L121.3,553.04 L121.8,553.33 L122.3,553.61 L122.8,553.88 L123.3,554.13 L123.8,554.37 L124.3,554.6 L124.8,554.82 L125.3,555.02 L125.8,555.21 L126.3,555.38 L126.8,555.54 L127.3,555.69 L127.8,555.83 L128.3,555.97 L128.8,556.1 L129.3,556.23 L129.8,556.36 L130.3,556.48 L130.8,556.6 L131.3,556.71 L131.8,556.82 L132.3,556.91 L132.8,557 L133.3,557.08 L133.8,557.14 L134.3,557.2 L134.8,557.24 L135.3,557.27 L135.8,557.28 L136.3,557.28 L136.8,557.27 L137.3,557.25 L137.8,557.22 L138.3,557.17 L138.8,557.12 L139.3,557.06 L139.8,556.99 L140.3,556.91 L140.8,556.82 L141.3,556.73 L141.8,556.62 L142.3,556.51 L142.8,556.4 L143.3,556.28 L143.8,556.15 L144.3,556.01 L144.8,555.88 L145.3,555.73 L145.8,555.59 L146.3,555.44 L146.8,555.28 L147.3,555.12 L147.8,554.96 L148.3,554.8 L148.8,554.64 L149.3,554.47 L149.8,554.31 L150.3,554.14 L150.8,553.97 L151.3,553.8 L151.8,553.64 L152.3,553.47 L152.8,553.31 L153.3,553.14 L153.8,552.98 L154.3,552.82 L154.8,552.67 L155.3,552.51 L155.8,552.36 L156.3,552.21 L156.8,552.05 L157.3,551.89 L157.8,551.73 L158.3,551.56 L158.8,551.39 L159.3,551.21 L159.8,551.03 L160.3,550.85 L160.8,550.66 L161.3,550.47 L161.8,550.28 L162.3,550.08 L162.8,549.88 L163.3,549.68 L163.8,549.48 L164.3,549.27 L164.8,549.07 L165.3,548.86 L165.8,548.65 L166.3,548.45 L166.8,548.24 L167.3,548.03 L167.8,547.83 L168.3,547.62 L168.8,547.41 L169.3,547.21 L169.8,547.01 L170.3,546.81 L170.8,546.61 L171.3,546.42 L171.8,546.23 L172.3,546.04 L172.8,545.85 L173.3,545.67 L173.8,545.49 L174.3,545.32 L174.8,545.15 L175.3,544.99 L175.8,544.83 L176.3,544.67 L176.8,544.52 L177.3,544.38 L177.8,544.25 L178.3,544.12 L178.8,543.99 L179.3,543.88 L179.8,543.77 L180.3,543.66 L180.8,543.56 L181.3,543.46 L181.8,543.37 L182.3,543.27 L182.8,543.18 L183.3,543.08 L183.8,542.99 L184.3,542.9 L184.8,542.81 L185.3,542.72 L185.8,542.63 L186.3,542.54 L186.8,542.45 L187.3,542.37 L187.8,542.28 L188.3,542.2 L188.8,542.11 L189.3,542.03 L189.8,541.95 L190.3,541.87 L190.8,541.79 L191.3,541.71 L191.8,541.63 L192.3,541.56 L192.8,541.48 L193.3,541.41 L193.8,541.33 L194.3,541.26 L194.8,541.19 L195.3,541.12 L195.8,541.05 L196.3,540.98 L196.8,540.91 L197.3,540.84 L197.8,540.78 L198.3,540.71 L198.8,540.64 L199.3,540.58 L199.8,540.52 L200.3,540.45 L200.8,540.39 L201.3,540.33 L201.8,540.27 L202.3,540.21 L202.8,540.16 L203.3,540.1 L203.8,540.04 L204.3,539.99 L204.8,539.93 L205.3,539.88 L205.8,539.83 L206.3,539.77 L206.8,539.72 L207.3,539.67 L207.8,539.62 L208.3,539.57 L208.8,539.52 L209.3,539.48 L209.8,539.43 L210.3,539.38 L210.8,539.34 L211.3,539.29 L211.8,539.25 L212.3,539.21 L212.8,539.17 L213.3,539.13 L213.8,539.08 L214.3,539.05 L214.8,539.01 L215.3,538.97 L215.8,538.93 L216.3,538.89 L216.8,538.86 L217.3,538.82 L217.8,538.79 L218.3,538.76 L218.8,538.72 L219.3,538.69 L219.8,538.66 L220.3,538.63 L220.8,538.6 L221.3,538.57 L221.8,538.54 L222.3,538.51 L222.8,538.49 L223.3,538.46 L223.8,538.43 L224.3,538.41 L224.8,538.38 L225.3,538.35 L225.8,538.33 L226.3,538.3 L226.8,538.28 L227.3,538.26 L227.8,538.23 L228.3,538.21 L228.8,538.19 L229.3,538.16 L229.8,538.14 L230.3,538.12 L230.8,538.09 L231.3,538.07 L231.8,538.05 L232.3,538.02 L232.8,538 L233.3,537.98 L233.8,537.95 L234.3,537.93 L234.8,537.91 L235.3,537.88 L235.8,537.86 L236.3,537.84 L236.8,537.81 L237.3,537.79 L237.8,537.76 L238.3,537.74 L238.8,537.73 L239,537.72" fill="none" stroke="#26992a" stroke-width="1.8" stroke-linejoin="round" stroke-linecap="round" />
<path d="M41.3,539.13 L41.8,538.83 L42.3,538.43 L42.8,537.93 L43.3,537.38 L43.8,536.82 L44.3,536.24 L44.8,535.67 L45.3,535.09 L45.8,534.51 L46.3,533.94 L46.8,533.35 L47.3,532.77 L47.8,532.18 L48.3,531.59 L48.8,531 L49.3,530.4 L49.8,529.8 L50.3,529.19 L50.8,528.58 L51.3,527.97 L51.8,527.36 L52.3,526.75 L52.8,526.14 L53.3,525.53 L53.8,524.91 L54.3,524.29 L54.8,523.67 L55.3,523.04 L55.8,522.41 L56.3,521.77 L56.8,521.13 L57.3,520.49 L57.8,519.84 L58.3,519.18 L58.8,518.52 L59.3,517.85 L59.8,517.17 L60.3,516.48 L60.8,515.79 L61.3,515.08 L61.8,514.37 L62.3,513.64 L62.8,512.9 L63.3,512.15 L63.8,511.38 L64.3,510.61 L64.8,509.82 L65.3,509.03 L65.8,508.23 L66.3,507.43 L66.8,506.62 L67.3,505.81 L67.8,504.99 L68.3,504.18 L68.8,503.37 L69.3,502.55 L69.8,501.74 L70.3,500.94 L70.8,500.14 L71.3,499.35 L71.8,498.56 L72.3,497.77 L72.8,496.99 L73.3,496.21 L73.8,495.42 L74.3,494.61 L74.8,493.8 L75.3,492.98 L75.8,492.17 L76.3,491.36 L76.8,490.56 L77.3,489.77 L77.8,489 L78.3,488.26 L78.8,487.54 L79.3,486.86 L79.8,486.22 L80.3,485.62 L80.8,485.04 L81.3,484.5 L81.8,483.96 L82.3,483.43 L82.8,482.9 L83.3,482.38 L83.8,481.88 L84.3,481.41 L84.8,480.97 L85.3,480.57 L85.8,480.22 L86.3,479.93 L86.8,479.72 L87.3,479.57 L87.8,479.5 L88.3,479.51 L88.8,479.59 L89.3,479.73 L89.8,479.92 L90.3,480.17 L90.8,480.46 L91.3,480.79 L91.8,481.16 L92.3,481.55 L92.8,481.96 L93.3,482.4 L93.8,482.87 L94.3,483.39 L94.8,483.98 L95.3,484.66 L95.8,485.42 L96.3,486.28 L96.8,487.21 L97.3,488.22 L97.8,489.28 L98.3,490.4 L98.8,491.57 L99.3,492.76 L99.8,493.99 L100.3,495.25 L100.8,496.55 L101.3,497.93 L101.8,499.4 L102.3,500.96 L102.8,502.59 L103.3,504.29 L103.8,506.04 L104.3,507.8 L104.8,509.56 L105.3,511.3 L105.8,513 L106.3,514.66 L106.8,516.28 L107.3,517.88 L107.8,519.46 L108.3,521.06 L108.8,522.65 L109.3,524.25 L109.8,525.84 L110.3,527.42 L110.8,528.98 L111.3,530.51 L111.8,532.01 L112.3,533.48 L112.8,534.9 L113.3,536.26 L113.8,537.57 L114.3,538.82 L114.8,539.99 L115.3,541.1 L115.8,542.14 L116.3,543.13 L116.8,544.08 L117.3,545.01 L117.8,545.93 L118.3,546.83 L118.8,547.71 L119.3,548.58 L119.8,549.42 L120.3,550.24 L120.8,551.04 L121.3,551.81 L121.8,552.55 L122.3,553.26 L122.8,553.94 L123.3,554.59 L123.8,555.2 L124.3,555.77 L124.8,556.31 L125.3,556.8 L125.8,557.26 L126.3,557.67 L126.8,558.03 L127.3,558.37 L127.8,558.67 L128.3,558.97 L128.8,559.25 L129.3,559.52 L129.8,559.79 L130.3,560.05 L130.8,560.3 L131.3,560.55 L131.8,560.78 L132.3,561 L132.8,561.22 L133.3,561.42 L133.8,561.6 L134.3,561.78 L134.8,561.94 L135.3,562.08 L135.8,562.21 L136.3,562.31 L136.8,562.41 L137.3,562.48 L137.8,562.53 L138.3,562.56 L138.8,562.58 L139.3,562.58 L139.8,562.56 L140.3,562.53 L140.8,562.49 L141.3,562.43 L141.8,562.37 L142.3,562.3 L142.8,562.22 L143.3,562.12 L143.8,562.03 L144.3,561.92 L144.8,561.81 L145.3,561.69 L145.8,561.56 L146.3,561.43 L146.8,561.3 L147.3,561.16 L147.8,561.02 L148.3,560.87 L148.8,560.73 L149.3,560.58 L149.8,560.43 L150.3,560.28 L150.8,560.13 L151.3,559.98 L151.8,559.83 L152.3,559.69 L152.8,559.53 L153.3,559.38 L153.8,559.21 L154.3,559.04 L154.8,558.86 L155.3,558.67 L155.8,558.47 L156.3,558.27 L156.8,558.06 L157.3,557.84 L157.8,557.62 L158.3,557.39 L158.8,557.16 L159.3,556.92 L159.8,556.68 L160.3,556.44 L160.8,556.2 L161.3,555.95 L161.8,555.71 L162.3,555.46 L162.8,555.21 L163.3,554.96 L163.8,554.72 L164.3,554.48 L164.8,554.24 L165.3,554 L165.8,553.76 L166.3,553.53 L166.8,553.31 L167.3,553.09 L167.8,552.87 L168.3,552.66 L168.8,552.46 L169.3,552.27 L169.8,552.08 L170.3,551.9 L170.8,551.72 L171.3,551.55 L171.8,551.37 L172.3,551.2 L172.8,551.03 L173.3,550.87 L173.8,550.7 L174.3,550.54 L174.8,550.38 L175.3,550.22 L175.8,550.06 L176.3,549.91 L176.8,549.75 L177.3,549.6 L177.8,549.44 L178.3,549.29 L178.8,549.14 L179.3,549 L179.8,548.85 L180.3,548.7 L180.8,548.56 L181.3,548.41 L181.8,548.27 L182.3,548.13 L182.8,547.99 L183.3,547.84 L183.8,547.7 L184.3,547.56 L184.8,547.43 L185.3,547.29 L185.8,547.15 L186.3,547.01 L186.8,546.87 L187.3,546.74 L187.8,546.6 L188.3,546.46 L188.8,546.33 L189.3,546.19 L189.8,546.05 L190.3,545.92 L190.8,545.78 L191.3,545.64 L191.8,545.49 L192.3,545.35 L192.8,545.2 L193.3,545.06 L193.8,544.91 L194.3,544.76 L194.8,544.61 L195.3,544.46 L195.8,544.31 L196.3,544.15 L196.8,544 L197.3,543.85 L197.8,543.7 L198.3,543.54 L198.8,543.39 L199.3,543.24 L199.8,543.09 L200.3,542.94 L200.8,542.79 L201.3,542.64 L201.8,542.49 L202.3,542.35 L202.8,542.21 L203.3,542.06 L203.8,541.92 L204.3,541.78 L204.8,541.65 L205.3,541.52 L205.8,541.38 L206.3,541.26 L206.8,541.13 L207.3,541.01 L207.8,540.89 L208.3,540.77 L208.8,540.66 L209.3,540.55 L209.8,540.45 L210.3,540.35 L210.8,540.25 L211.3,540.16 L211.8,540.07 L212.3,539.99 L212.8,539.91 L213.3,539.83 L213.8,539.76 L214.3,539.7 L214.8,539.64 L215.3,539.59 L215.8,539.54 L216.3,539.5 L216.8,539.46 L217.3,539.42 L217.8,539.38 L218.3,539.35 L218.8,539.31 L219.3,539.28 L219.8,539.25 L220.3,539.22 L220.8,539.19 L221.3,539.16 L221.8,539.13 L222.3,539.1 L222.8,539.08 L223.3,539.05 L223.8,539.03 L224.3,539 L224.8,538.98 L225.3,538.96 L225.8,538.94 L226.3,538.92 L226.8,538.89 L227.3,538.87 L227.8,538.85 L228.3,538.83 L228.8,538.81 L229.3,538.79 L229.8,538.77 L230.3,538.76 L230.8,538.74 L231.3,538.72 L231.8,538.7 L232.3,538.68 L232.8,538.66 L233.3,538.64 L233.8,538.62 L234.3,538.6 L234.8,538.58 L235.3,538.56 L235.8,538.54 L236.3,538.52 L236.8,538.5 L237.3,538.48 L237.8,538.46 L238.3,538.44 L238.8,538.42 L239,538.41" fill="none" stroke="#2c8ad9" stroke-width="1.8" stroke-linejoin="round" stroke-linecap="round" />
<path d="M41.3,550.35 L41.8,549.97 L42.3,549.45 L42.8,548.81 L43.3,548.1 L43.8,547.37 L44.3,546.63 L44.8,545.88 L45.3,545.13 L45.8,544.37 L46.3,543.59 L46.8,542.8 L47.3,541.99 L47.8,541.15 L48.3,540.3 L48.8,539.42 L49.3,538.52 L49.8,537.6 L50.3,536.66 L50.8,535.71 L51.3,534.74 L51.8,533.75 L52.3,532.75 L52.8,531.73 L53.3,530.7 L53.8,529.66 L54.3,528.61 L54.8,527.55 L55.3,526.47 L55.8,525.39 L56.3,524.3 L56.8,523.2 L57.3,522.07 L57.8,520.93 L58.3,519.77 L58.8,518.6 L59.3,517.41 L59.8,516.21 L60.3,515 L60.8,513.77 L61.3,512.55 L61.8,511.31 L62.3,510.08 L62.8,508.84 L63.3,507.6 L63.8,506.37 L64.3,505.14 L64.8,503.92 L65.3,502.69 L65.8,501.47 L66.3,500.25 L66.8,499.04 L67.3,497.81 L67.8,496.59 L68.3,495.36 L68.8,494.13 L69.3,492.89 L69.8,491.65 L70.3,490.4 L70.8,489.14 L71.3,487.86 L71.8,486.58 L72.3,485.29 L72.8,483.97 L73.3,482.64 L73.8,481.28 L74.3,479.91 L74.8,478.51 L75.3,477.09 L75.8,475.67 L76.3,474.23 L76.8,472.79 L77.3,471.36 L77.8,469.92 L78.3,468.5 L78.8,467.08 L79.3,465.69 L79.8,464.31 L80.3,462.96 L80.8,461.63 L81.3,460.32 L81.8,459.01 L82.3,457.7 L82.8,456.38 L83.3,455.06 L83.8,453.76 L84.3,452.5 L84.8,451.3 L85.3,450.17 L85.8,449.14 L86.3,448.22 L86.8,447.4 L87.3,446.67 L87.8,446 L88.3,445.37 L88.8,444.77 L89.3,444.2 L89.8,443.67 L90.3,443.19 L90.8,442.78 L91.3,442.44 L91.8,442.18 L92.3,442 L92.8,441.91 L93.3,441.9 L93.8,441.96 L94.3,442.07 L94.8,442.23 L95.3,442.43 L95.8,442.67 L96.3,442.94 L96.8,443.23 L97.3,443.57 L97.8,443.95 L98.3,444.43 L98.8,445.01 L99.3,445.74 L99.8,446.6 L100.3,447.59 L100.8,448.67 L101.3,449.84 L101.8,451.06 L102.3,452.31 L102.8,453.58 L103.3,454.82 L103.8,456.04 L104.3,457.23 L104.8,458.38 L105.3,459.53 L105.8,460.66 L106.3,461.81 L106.8,462.96 L107.3,464.12 L107.8,465.29 L108.3,466.46 L108.8,467.64 L109.3,468.83 L109.8,470.02 L110.3,471.23 L110.8,472.43 L111.3,473.64 L111.8,474.86 L112.3,476.08 L112.8,477.31 L113.3,478.54 L113.8,479.78 L114.3,481.02 L114.8,482.26 L115.3,483.51 L115.8,484.76 L116.3,486.03 L116.8,487.3 L117.3,488.6 L117.8,489.9 L118.3,491.22 L118.8,492.55 L119.3,493.89 L119.8,495.24 L120.3,496.59 L120.8,497.94 L121.3,499.3 L121.8,500.65 L122.3,502 L122.8,503.34 L123.3,504.68 L123.8,506.01 L124.3,507.33 L124.8,508.63 L125.3,509.92 L125.8,511.19 L126.3,512.44 L126.8,513.67 L127.3,514.89 L127.8,516.09 L128.3,517.29 L128.8,518.49 L129.3,519.69 L129.8,520.88 L130.3,522.07 L130.8,523.26 L131.3,524.43 L131.8,525.6 L132.3,526.76 L132.8,527.9 L133.3,529.03 L133.8,530.14 L134.3,531.24 L134.8,532.32 L135.3,533.38 L135.8,534.41 L136.3,535.42 L136.8,536.41 L137.3,537.36 L137.8,538.3 L138.3,539.2 L138.8,540.08 L139.3,540.95 L139.8,541.81 L140.3,542.67 L140.8,543.52 L141.3,544.38 L141.8,545.22 L142.3,546.06 L142.8,546.88 L143.3,547.69 L143.8,548.48 L144.3,549.25 L144.8,550 L145.3,550.73 L145.8,551.43 L146.3,552.09 L146.8,552.73 L147.3,553.33 L147.8,553.89 L148.3,554.41 L148.8,554.89 L149.3,555.32 L149.8,555.71 L150.3,556.07 L150.8,556.39 L151.3,556.7 L151.8,557 L152.3,557.3 L152.8,557.59 L153.3,557.87 L153.8,558.15 L154.3,558.42 L154.8,558.68 L155.3,558.93 L155.8,559.18 L156.3,559.41 L156.8,559.64 L157.3,559.85 L157.8,560.06 L158.3,560.25 L158.8,560.43 L159.3,560.59 L159.8,560.74 L160.3,560.88 L160.8,561 L161.3,561.11 L161.8,561.19 L162.3,561.27 L162.8,561.32 L163.3,561.36 L163.8,561.38 L164.3,561.38 L164.8,561.36 L165.3,561.33 L165.8,561.29 L166.3,561.24 L166.8,561.17 L167.3,561.09 L167.8,561 L168.3,560.9 L168.8,560.78 L169.3,560.66 L169.8,560.53 L170.3,560.4 L170.8,560.25 L171.3,560.1 L171.8,559.94 L172.3,559.78 L172.8,559.61 L173.3,559.43 L173.8,559.25 L174.3,559.07 L174.8,558.89 L175.3,558.7 L175.8,558.51 L176.3,558.32 L176.8,558.13 L177.3,557.94 L177.8,557.75 L178.3,557.56 L178.8,557.38 L179.3,557.19 L179.8,557.01 L180.3,556.82 L180.8,556.63 L181.3,556.44 L181.8,556.24 L182.3,556.03 L182.8,555.82 L183.3,555.6 L183.8,555.37 L184.3,555.14 L184.8,554.9 L185.3,554.66 L185.8,554.42 L186.3,554.16 L186.8,553.91 L187.3,553.65 L187.8,553.39 L188.3,553.13 L188.8,552.86 L189.3,552.59 L189.8,552.32 L190.3,552.05 L190.8,551.77 L191.3,551.5 L191.8,551.22 L192.3,550.95 L192.8,550.68 L193.3,550.4 L193.8,550.13 L194.3,549.86 L194.8,549.59 L195.3,549.32 L195.8,549.06 L196.3,548.8 L196.8,548.54 L197.3,548.28 L197.8,548.03 L198.3,547.79 L198.8,547.54 L199.3,547.3 L199.8,547.06 L200.3,546.81 L200.8,546.56 L201.3,546.3 L201.8,546.04 L202.3,545.78 L202.8,545.51 L203.3,545.23 L203.8,544.96 L204.3,544.68 L204.8,544.4 L205.3,544.12 L205.8,543.84 L206.3,543.56 L206.8,543.28 L207.3,543 L207.8,542.72 L208.3,542.44 L208.8,542.17 L209.3,541.9 L209.8,541.63 L210.3,541.37 L210.8,541.11 L211.3,540.85 L211.8,540.61 L212.3,540.36 L212.8,540.13 L213.3,539.9 L213.8,539.68 L214.3,539.47 L214.8,539.27 L215.3,539.08 L215.8,538.89 L216.3,538.72 L216.8,538.56 L217.3,538.41 L217.8,538.27 L218.3,538.15 L218.8,538.04 L219.3,537.94 L219.8,537.86 L220.3,537.79 L220.8,537.73 L221.3,537.68 L221.8,537.64 L222.3,537.61 L222.8,537.57 L223.3,537.54 L223.8,537.51 L224.3,537.48 L224.8,537.45 L225.3,537.42 L225.8,537.4 L226.3,537.38 L226.8,537.35 L227.3,537.33 L227.8,537.31 L228.3,537.29 L228.8,537.27 L229.3,537.25 L229.8,537.23 L230.3,537.21 L230.8,537.2 L231.3,537.18 L231.8,537.16 L232.3,537.14 L232.8,537.13 L233.3,537.11 L233.8,537.09 L234.3,537.08 L234.8,537.06 L235.3,537.04 L235.8,537.03 L236.3,537.01 L236.8,536.99 L237.3,536.97 L237.8,536.95 L238.3,536.94 L238.8,536.92 L239,536.91" fill="none" stroke="#e77b28" stroke-width="1.8" stroke-linejoin="round" stroke-linecap="round" />
<path d="M41.3,553.19 L41.8,553.39 L42.3,553.67 L42.8,554.02 L43.3,554.4 L43.8,554.8 L44.3,555.19 L44.8,555.58 L45.3,555.96 L45.8,556.33 L46.3,556.69 L46.8,557.05 L47.3,557.42 L47.8,557.79 L48.3,558.15 L48.8,558.48 L49.3,558.77 L49.8,558.99 L50.3,559.13 L50.8,559.17 L51.3,559.13 L51.8,558.99 L52.3,558.78 L52.8,558.5 L53.3,558.16 L53.8,557.77 L54.3,557.33 L54.8,556.86 L55.3,556.35 L55.8,555.81 L56.3,555.23 L56.8,554.56 L57.3,553.81 L57.8,552.93 L58.3,551.95 L58.8,550.85 L59.3,549.65 L59.8,548.37 L60.3,547.01 L60.8,545.59 L61.3,544.12 L61.8,542.61 L62.3,541.05 L62.8,539.45 L63.3,537.76 L63.8,535.97 L64.3,534.06 L64.8,532.03 L65.3,529.9 L65.8,527.68 L66.3,525.41 L66.8,523.11 L67.3,520.79 L67.8,518.5 L68.3,516.24 L68.8,514.04 L69.3,511.91 L69.8,509.84 L70.3,507.81 L70.8,505.81 L71.3,503.84 L71.8,501.88 L72.3,499.93 L72.8,498 L73.3,496.09 L73.8,494.19 L74.3,492.31 L74.8,490.45 L75.3,488.6 L75.8,486.78 L76.3,484.97 L76.8,483.17 L77.3,481.39 L77.8,479.62 L78.3,477.86 L78.8,476.12 L79.3,474.38 L79.8,472.67 L80.3,470.97 L80.8,469.29 L81.3,467.64 L81.8,466.02 L82.3,464.42 L82.8,462.86 L83.3,461.32 L83.8,459.8 L84.3,458.29 L84.8,456.78 L85.3,455.27 L85.8,453.78 L86.3,452.33 L86.8,450.95 L87.3,449.66 L87.8,448.47 L88.3,447.41 L88.8,446.46 L89.3,445.62 L89.8,444.83 L90.3,444.1 L90.8,443.39 L91.3,442.71 L91.8,442.07 L92.3,441.47 L92.8,440.93 L93.3,440.46 L93.8,440.06 L94.3,439.74 L94.8,439.5 L95.3,439.37 L95.8,439.34 L96.3,439.42 L96.8,439.6 L97.3,439.88 L97.8,440.23 L98.3,440.65 L98.8,441.13 L99.3,441.64 L99.8,442.18 L100.3,442.73 L100.8,443.31 L101.3,443.91 L101.8,444.55 L102.3,445.25 L102.8,446 L103.3,446.81 L103.8,447.65 L104.3,448.53 L104.8,449.43 L105.3,450.34 L105.8,451.25 L106.3,452.17 L106.8,453.08 L107.3,454 L107.8,454.93 L108.3,455.87 L108.8,456.82 L109.3,457.78 L109.8,458.76 L110.3,459.75 L110.8,460.75 L111.3,461.75 L111.8,462.77 L112.3,463.79 L112.8,464.81 L113.3,465.84 L113.8,466.87 L114.3,467.91 L114.8,468.94 L115.3,469.97 L115.8,471.01 L116.3,472.03 L116.8,473.06 L117.3,474.08 L117.8,475.09 L118.3,476.1 L118.8,477.1 L119.3,478.11 L119.8,479.11 L120.3,480.12 L120.8,481.12 L121.3,482.13 L121.8,483.13 L122.3,484.14 L122.8,485.14 L123.3,486.15 L123.8,487.15 L124.3,488.16 L124.8,489.17 L125.3,490.17 L125.8,491.18 L126.3,492.18 L126.8,493.19 L127.3,494.19 L127.8,495.19 L128.3,496.2 L128.8,497.2 L129.3,498.2 L129.8,499.2 L130.3,500.21 L130.8,501.21 L131.3,502.22 L131.8,503.23 L132.3,504.24 L132.8,505.25 L133.3,506.26 L133.8,507.28 L134.3,508.29 L134.8,509.3 L135.3,510.3 L135.8,511.31 L136.3,512.31 L136.8,513.31 L137.3,514.31 L137.8,515.3 L138.3,516.28 L138.8,517.26 L139.3,518.24 L139.8,519.21 L140.3,520.17 L140.8,521.13 L141.3,522.09 L141.8,523.05 L142.3,524.03 L142.8,525.01 L143.3,526 L143.8,527 L144.3,528 L144.8,528.99 L145.3,529.99 L145.8,530.98 L146.3,531.96 L146.8,532.93 L147.3,533.88 L147.8,534.82 L148.3,535.73 L148.8,536.62 L149.3,537.49 L149.8,538.33 L150.3,539.13 L150.8,539.9 L151.3,540.63 L151.8,541.33 L152.3,541.98 L152.8,542.61 L153.3,543.21 L153.8,543.79 L154.3,544.35 L154.8,544.9 L155.3,545.44 L155.8,545.96 L156.3,546.48 L156.8,546.97 L157.3,547.45 L157.8,547.92 L158.3,548.38 L158.8,548.82 L159.3,549.24 L159.8,549.65 L160.3,550.04 L160.8,550.42 L161.3,550.79 L161.8,551.13 L162.3,551.47 L162.8,551.78 L163.3,552.09 L163.8,552.39 L164.3,552.69 L164.8,552.98 L165.3,553.28 L165.8,553.57 L166.3,553.86 L166.8,554.15 L167.3,554.44 L167.8,554.72 L168.3,555 L168.8,555.27 L169.3,555.53 L169.8,555.79 L170.3,556.04 L170.8,556.28 L171.3,556.5 L171.8,556.72 L172.3,556.92 L172.8,557.11 L173.3,557.29 L173.8,557.45 L174.3,557.59 L174.8,557.72 L175.3,557.83 L175.8,557.92 L176.3,557.99 L176.8,558.04 L177.3,558.07 L177.8,558.08 L178.3,558.07 L178.8,558.04 L179.3,557.99 L179.8,557.93 L180.3,557.86 L180.8,557.77 L181.3,557.67 L181.8,557.55 L182.3,557.42 L182.8,557.28 L183.3,557.13 L183.8,556.97 L184.3,556.79 L184.8,556.61 L185.3,556.42 L185.8,556.22 L186.3,556.01 L186.8,555.79 L187.3,555.57 L187.8,555.34 L188.3,555.11 L188.8,554.87 L189.3,554.62 L189.8,554.38 L190.3,554.12 L190.8,553.87 L191.3,553.61 L191.8,553.36 L192.3,553.1 L192.8,552.84 L193.3,552.58 L193.8,552.32 L194.3,552.07 L194.8,551.81 L195.3,551.56 L195.8,551.31 L196.3,551.07 L196.8,550.83 L197.3,550.59 L197.8,550.36 L198.3,550.14 L198.8,549.92 L199.3,549.7 L199.8,549.48 L200.3,549.27 L200.8,549.04 L201.3,548.81 L201.8,548.58 L202.3,548.34 L202.8,548.1 L203.3,547.85 L203.8,547.6 L204.3,547.34 L204.8,547.09 L205.3,546.83 L205.8,546.57 L206.3,546.3 L206.8,546.04 L207.3,545.78 L207.8,545.52 L208.3,545.25 L208.8,544.99 L209.3,544.73 L209.8,544.47 L210.3,544.21 L210.8,543.96 L211.3,543.71 L211.8,543.46 L212.3,543.22 L212.8,542.98 L213.3,542.75 L213.8,542.52 L214.3,542.3 L214.8,542.08 L215.3,541.87 L215.8,541.67 L216.3,541.48 L216.8,541.29 L217.3,541.12 L217.8,540.95 L218.3,540.79 L218.8,540.64 L219.3,540.5 L219.8,540.37 L220.3,540.26 L220.8,540.15 L221.3,540.05 L221.8,539.96 L222.3,539.87 L222.8,539.79 L223.3,539.71 L223.8,539.63 L224.3,539.55 L224.8,539.48 L225.3,539.41 L225.8,539.35 L226.3,539.28 L226.8,539.22 L227.3,539.16 L227.8,539.1 L228.3,539.04 L228.8,538.98 L229.3,538.93 L229.8,538.87 L230.3,538.82 L230.8,538.77 L231.3,538.72 L231.8,538.67 L232.3,538.62 L232.8,538.57 L233.3,538.52 L233.8,538.46 L234.3,538.41 L234.8,538.36 L235.3,538.31 L235.8,538.26 L236.3,538.21 L236.8,538.15 L237.3,538.1 L237.8,538.04 L238.3,538 L238.8,537.96 L239,537.94" fill="none" stroke="#1cb3ae" stroke-width="1.8" stroke-linejoin="round" stroke-linecap="round" />
<rect x="41.3" y="417.5" width="197.8" height="158.4" stroke="#1f1f1f" stroke-width="1.5" fill="none" />
<line x1="80.9" y1="575.9" x2="80.9" y2="572.1" stroke="#1f1f1f" stroke-width="1" />
<line x1="120.5" y1="575.9" x2="120.5" y2="572.1" stroke="#1f1f1f" stroke-width="1" />
<line x1="160.1" y1="575.9" x2="160.1" y2="572.1" stroke="#1f1f1f" stroke-width="1" />
<line x1="199.7" y1="575.9" x2="199.7" y2="572.1" stroke="#1f1f1f" stroke-width="1" />
<line x1="61.1" y1="575.9" x2="61.1" y2="573.8" stroke="#1f1f1f" stroke-width="1" />
<line x1="100.7" y1="575.9" x2="100.7" y2="573.8" stroke="#1f1f1f" stroke-width="1" />
<line x1="140.3" y1="575.9" x2="140.3" y2="573.8" stroke="#1f1f1f" stroke-width="1" />
<line x1="179.9" y1="575.9" x2="179.9" y2="573.8" stroke="#1f1f1f" stroke-width="1" />
<line x1="219.5" y1="575.9" x2="219.5" y2="573.8" stroke="#1f1f1f" stroke-width="1" />
<text x="41.3" y="588" font-family="Liberation Sans" font-size="10" font-weight="normal" fill="#1a1a1a" text-anchor="middle" >400</text>
<text x="80.9" y="588" font-family="Liberation Sans" font-size="10" font-weight="normal" fill="#1a1a1a" text-anchor="middle" >500</text>
<text x="120.5" y="588" font-family="Liberation Sans" font-size="10" font-weight="normal" fill="#1a1a1a" text-anchor="middle" >600</text>
<text x="160.1" y="588" font-family="Liberation Sans" font-size="10" font-weight="normal" fill="#1a1a1a" text-anchor="middle" >700</text>
<text x="199.7" y="588" font-family="Liberation Sans" font-size="10" font-weight="normal" fill="#1a1a1a" text-anchor="middle" >800</text>
<text x="239.3" y="588" font-family="Liberation Sans" font-size="10" font-weight="normal" fill="#1a1a1a" text-anchor="middle" >900</text>
<text x="140" y="606" font-family="Liberation Sans" font-size="12.2" font-weight="bold" fill="#111" text-anchor="middle" >Wavelength (nm)</text>
<line x1="183" y1="426.2" x2="200" y2="426.2" stroke="#d42030" stroke-width="1.8" />
<line x1="183" y1="435.95" x2="200" y2="435.95" stroke="#26992a" stroke-width="1.8" />
<line x1="183" y1="445.7" x2="200" y2="445.7" stroke="#2c8ad9" stroke-width="1.8" />
<line x1="183" y1="455.45" x2="200" y2="455.45" stroke="#e77b28" stroke-width="1.8" />
<line x1="183" y1="465.2" x2="200" y2="465.2" stroke="#1cb3ae" stroke-width="1.8" />
<text x="233.8" y="429" font-family="Liberation Sans" font-size="7.6" font-weight="bold" fill="#111" text-anchor="end" >4.3 nm</text>
<text x="233.8" y="438.75" font-family="Liberation Sans" font-size="7.6" font-weight="bold" fill="#111" text-anchor="end" >9.8 nm</text>
<text x="233.8" y="448.5" font-family="Liberation Sans" font-size="7.6" font-weight="bold" fill="#111" text-anchor="end" >14.9 nm</text>
<text x="233.8" y="458.25" font-family="Liberation Sans" font-size="7.6" font-weight="bold" fill="#111" text-anchor="end" >20.7 nm</text>
<text x="233.8" y="468" font-family="Liberation Sans" font-size="7.6" font-weight="bold" fill="#111" text-anchor="end" >52.3 nm</text>
<text x="279.6" y="416.3" font-family="Liberation Sans" font-size="15.5" font-weight="bold" fill="#111" text-anchor="start" >(f)</text>
<text x="299" y="497.1" font-family="Liberation Sans" font-size="12.1" font-weight="bold" fill="#111" text-anchor="middle" transform="rotate(-90 299 497.1)" >SHG intensity (a.u.)</text>
<path d="M310.4,567.88 L312.2,568.45 L314,565.05 L315.8,564.45 L317.6,566.98 L319.4,567.81 L321.2,568.41 L323,568.65 L324.8,567.56 L326.6,564.43 L328.4,566.51 L330.2,567.93 L332,568.25 L333.8,567.66 L335.6,565.64 L337.4,567.89 L339.2,567.63 L341,567.09 L342.8,567 L344.6,567.87 L346.4,568.05 L348.2,569.19 L350,568.44 L351.8,567.54 L353.6,566.62 L355.4,568.21 L357.2,569.37 L359,568.92 L360.8,568.95 L362.6,567.91 L364.4,567.19 L366.2,567.28 L368,563.76 L369.8,566.57 L371.6,569.07 L373.4,568.41 L375.2,568.13 L377,567.95 L378.8,568.25 L380.6,568.36 L382.4,568.21 L384.2,568.99 L386,567.42 L387.8,568.16 L389.6,568.57 L391.4,567.76 L393.2,569.56 L395,567.24 L396.8,567.82 L398.6,568.59 L400.4,568.28 L402.2,568.23 L404,566.2 L405.8,566.47 L407.6,563.34 L409.4,565.31 L411.2,568.04 L413,566.96 L414.8,567.02 L416.6,568.37 L418.4,567.14 L420.2,568.33 L422,565.69 L423.8,567.54 L425.6,568.15 L427.4,568.46 L429.2,569.09 L431,567.88 L432.8,566.61 L434.6,565.4 L436.4,563.96 L438.2,562.29 L440,562.21 L441.8,562.22 L443.6,564.77 L445.4,565.88 L447.2,566.74 L449,567.55 L450.8,568 L452.6,567.24 L454.4,569.36 L456.2,568.39 L458,568.13 L459.8,567.46 L461.6,568.01 L463.4,568.07 L465.2,567.31 L467,565.76 L468.8,569.27 L470.6,568.39 L472.4,568.28 L474.2,568.72 L476,569.66 L477.8,567.75 L479.6,568.06 L481.4,567.73 L483.2,568.23 L485,566.75 L486.8,567.74 L488.6,567.2 L490.4,567.05 L492.2,568.2 L494,568.35 L495.8,568.58 L497.6,568.46 L499.4,567.79 L501.2,567.53 L503,567.21 L504.8,570 L506.6,569.06 L508.4,569.31" fill="none" stroke="#d42030" stroke-width="1.5" stroke-linejoin="round" stroke-linecap="round" clip-path="url(#cf)"/>
<path d="M310.4,567.23 L312.2,567.61 L314,568.23 L315.8,567.29 L317.6,567.13 L319.4,568.09 L321.2,567.37 L323,568.24 L324.8,567.35 L326.6,564.22 L328.4,566.04 L330.2,568.51 L332,568 L333.8,567.59 L335.6,566.52 L337.4,565.76 L339.2,566.35 L341,567.11 L342.8,568.09 L344.6,566.46 L346.4,566.59 L348.2,566.42 L350,566.47 L351.8,566.14 L353.6,567.32 L355.4,566.94 L357.2,565.67 L359,564.92 L360.8,565.78 L362.6,567.54 L364.4,568.21 L366.2,568.98 L368,568.71 L369.8,568.81 L371.6,569.2 L373.4,569.9 L375.2,567.01 L377,566.57 L378.8,567.77 L380.6,568.15 L382.4,568.59 L384.2,568.24 L386,566.08 L387.8,566.83 L389.6,567.35 L391.4,567.18 L393.2,567.4 L395,567.91 L396.8,564.74 L398.6,566.39 L400.4,567.55 L402.2,567.85 L404,567.09 L405.8,566.18 L407.6,563.72 L409.4,565.74 L411.2,566.99 L413,567.45 L414.8,564.12 L416.6,565.44 L418.4,566.93 L420.2,567.25 L422,567.86 L423.8,566.23 L425.6,567.3 L427.4,566.86 L429.2,568.42 L431,566.62 L432.8,565.63 L434.6,565.36 L436.4,564.91 L438.2,564.94 L440,564.9 L441.8,565.07 L443.6,565.23 L445.4,566.32 L447.2,566.75 L449,566.91 L450.8,564.8 L452.6,567.7 L454.4,568.2 L456.2,569.22 L458,569.05 L459.8,568.03 L461.6,568.37 L463.4,568.4 L465.2,568.68 L467,569.08 L468.8,567.99 L470.6,565.3 L472.4,567.42 L474.2,566.94 L476,565.39 L477.8,565.97 L479.6,567.4 L481.4,567.64 L483.2,568.74 L485,567.3 L486.8,566.34 L488.6,565.95 L490.4,569.13 L492.2,568.05 L494,567.58 L495.8,566.62 L497.6,566.21 L499.4,566.04 L501.2,566.82 L503,567.81 L504.8,566.68 L506.6,565.33 L508.4,566.11" fill="none" stroke="#26992a" stroke-width="1.5" stroke-linejoin="round" stroke-linecap="round" clip-path="url(#cf)"/>
<path d="M310.4,569.08 L312.2,569.3 L314,567.49 L315.8,563.81 L317.6,566.19 L319.4,566.14 L321.2,568.41 L323,568.6 L324.8,567.98 L326.6,569.25 L328.4,569.36 L330.2,568.27 L332,567.39 L333.8,566.3 L335.6,567.62 L337.4,567.95 L339.2,565.94 L341,568.1 L342.8,567.3 L344.6,566.44 L346.4,566.3 L348.2,567.09 L350,567.96 L351.8,567.5 L353.6,568.62 L355.4,568.22 L357.2,567.32 L359,567.81 L360.8,568.07 L362.6,569 L364.4,568.71 L366.2,568.02 L368,568.89 L369.8,567.36 L371.6,565.06 L373.4,566.71 L375.2,567.2 L377,568 L378.8,567.89 L380.6,567.78 L382.4,569.2 L384.2,569.68 L386,568.33 L387.8,568.8 L389.6,567.49 L391.4,567.23 L393.2,567.93 L395,567.95 L396.8,568.43 L398.6,567.77 L400.4,568.06 L402.2,568.64 L404,568.56 L405.8,566.95 L407.6,563.3 L409.4,565.54 L411.2,566.86 L413,562.95 L414.8,566.46 L416.6,567.87 L418.4,567.57 L420.2,565.26 L422,566.3 L423.8,568.06 L425.6,567.97 L427.4,567.99 L429.2,567.54 L431,566.89 L432.8,565.14 L434.6,562.87 L436.4,560.2 L438.2,557.71 L440,556.81 L441.8,556.91 L443.6,558.92 L445.4,561.06 L447.2,564.08 L449,565.76 L450.8,567.04 L452.6,566.88 L454.4,566.54 L456.2,567.72 L458,565.01 L459.8,566.46 L461.6,563.89 L463.4,566.36 L465.2,567.93 L467,566.3 L468.8,567.54 L470.6,567.96 L472.4,569.1 L474.2,567.79 L476,563.81 L477.8,566.46 L479.6,568.32 L481.4,567.39 L483.2,567.6 L485,568.91 L486.8,569.17 L488.6,568.78 L490.4,566.37 L492.2,568.35 L494,569.2 L495.8,568.03 L497.6,567.94 L499.4,568.49 L501.2,568 L503,568.04 L504.8,567.31 L506.6,567.91 L508.4,567.87" fill="none" stroke="#2c8ad9" stroke-width="1.5" stroke-linejoin="round" stroke-linecap="round" clip-path="url(#cf)"/>
<path d="M310.4,567.49 L312.2,567.12 L314,566.69 L315.8,566.45 L317.6,566.92 L319.4,567.39 L321.2,566.75 L323,566.47 L324.8,568.96 L326.6,568.09 L328.4,568.46 L330.2,568.25 L332,568.33 L333.8,565.68 L335.6,566.84 L337.4,568.11 L339.2,566.66 L341,566.75 L342.8,567.52 L344.6,568.59 L346.4,568.03 L348.2,565.34 L350,566.92 L351.8,567.53 L353.6,567.22 L355.4,566.23 L357.2,568.06 L359,568.47 L360.8,568.01 L362.6,567.81 L364.4,566 L366.2,565.77 L368,562.1 L369.8,565.08 L371.6,567.75 L373.4,567.1 L375.2,569.26 L377,567.84 L378.8,563.83 L380.6,566.86 L382.4,564.54 L384.2,563.96 L386,566.17 L387.8,566.71 L389.6,567.83 L391.4,567.99 L393.2,568.81 L395,567.89 L396.8,566.18 L398.6,565.68 L400.4,567.56 L402.2,565.67 L404,565.72 L405.8,565.26 L407.6,568.27 L409.4,567.26 L411.2,567.2 L413,566.53 L414.8,565.52 L416.6,565 L418.4,564.73 L420.2,565.12 L422,564.91 L423.8,564.06 L425.6,563.37 L427.4,561.85 L429.2,558.73 L431,550.94 L432.8,539.74 L434.6,524.77 L436.4,508.91 L438.2,496.56 L440,492.4 L441.8,498.34 L443.6,511.77 L445.4,528.63 L447.2,543.58 L449,552.89 L450.8,560.41 L452.6,563.51 L454.4,562.68 L456.2,564.11 L458,564.82 L459.8,565.8 L461.6,566.73 L463.4,566.58 L465.2,566.68 L467,566.93 L468.8,567.47 L470.6,566.75 L472.4,566.69 L474.2,565.63 L476,566.01 L477.8,566.27 L479.6,565.86 L481.4,567.25 L483.2,566.89 L485,565.5 L486.8,567.29 L488.6,567.61 L490.4,565.46 L492.2,565.04 L494,567.01 L495.8,564.11 L497.6,566.05 L499.4,567.02 L501.2,566.9 L503,566.58 L504.8,566.92 L506.6,567.44 L508.4,567.1" fill="none" stroke="#e77b28" stroke-width="1.5" stroke-linejoin="round" stroke-linecap="round" clip-path="url(#cf)"/>
<path d="M310.4,567.1 L312.2,566.65 L314,564.37 L315.8,565.52 L317.6,567.12 L319.4,566.1 L321.2,566.5 L323,565.93 L324.8,566.55 L326.6,566.06 L328.4,565.51 L330.2,566.02 L332,563.54 L333.8,563.53 L335.6,566.91 L337.4,567.06 L339.2,565.59 L341,565.77 L342.8,565.43 L344.6,565.63 L346.4,565.98 L348.2,566.36 L350,566.57 L351.8,567.97 L353.6,567.49 L355.4,567.76 L357.2,566.64 L359,566.69 L360.8,567.73 L362.6,567.27 L364.4,564.57 L366.2,564.68 L368,566.17 L369.8,566.18 L371.6,566.14 L373.4,564.73 L375.2,563.58 L377,565.37 L378.8,564.34 L380.6,563.62 L382.4,566.23 L384.2,567.81 L386,567.52 L387.8,567.56 L389.6,566.69 L391.4,565.64 L393.2,567.03 L395,568.2 L396.8,567.68 L398.6,568.02 L400.4,566.29 L402.2,565.48 L404,564.17 L405.8,564.3 L407.6,564.56 L409.4,564.57 L411.2,566.23 L413,565.62 L414.8,564.83 L416.6,562.08 L418.4,563.56 L420.2,565.17 L422,562.36 L423.8,561.83 L425.6,560.26 L427.4,556.95 L429.2,551.21 L431,538.69 L432.8,520.02 L434.6,496.07 L436.4,471.01 L438.2,453.97 L440,452.11 L441.8,466.51 L443.6,490.4 L445.4,515.36 L447.2,535.57 L449,547.81 L450.8,554.8 L452.6,559.75 L454.4,563.65 L456.2,563.58 L458,565.27 L459.8,565.37 L461.6,564.16 L463.4,565.41 L465.2,565.82 L467,566.15 L468.8,564.91 L470.6,564.24 L472.4,565.15 L474.2,565.89 L476,565.95 L477.8,565.93 L479.6,564.67 L481.4,565.86 L483.2,564.48 L485,565.91 L486.8,565.55 L488.6,564.43 L490.4,564.68 L492.2,565.36 L494,565.82 L495.8,567.36 L497.6,566.87 L499.4,566.47 L501.2,566.34 L503,564.32 L504.8,566.13 L506.6,565.78 L508.4,565.27" fill="none" stroke="#1cb3ae" stroke-width="1.5" stroke-linejoin="round" stroke-linecap="round" clip-path="url(#cf)"/>
<rect x="310.4" y="417.5" width="198.1" height="158.4" stroke="#1f1f1f" stroke-width="1.5" fill="none" />
<line x1="376.4" y1="575.9" x2="376.4" y2="572.1" stroke="#1f1f1f" stroke-width="1" />
<line x1="442.4" y1="575.9" x2="442.4" y2="572.1" stroke="#1f1f1f" stroke-width="1" />
<line x1="343.4" y1="575.9" x2="343.4" y2="573.8" stroke="#1f1f1f" stroke-width="1" />
<line x1="409.4" y1="575.9" x2="409.4" y2="573.8" stroke="#1f1f1f" stroke-width="1" />
<line x1="475.4" y1="575.9" x2="475.4" y2="573.8" stroke="#1f1f1f" stroke-width="1" />
<text x="310.4" y="588.4" font-family="Liberation Sans" font-size="10" font-weight="normal" fill="#1a1a1a" text-anchor="middle" >375</text>
<text x="376.4" y="588.4" font-family="Liberation Sans" font-size="10" font-weight="normal" fill="#1a1a1a" text-anchor="middle" >400</text>
<text x="442.4" y="588.4" font-family="Liberation Sans" font-size="10" font-weight="normal" fill="#1a1a1a" text-anchor="middle" >425</text>
<text x="508.4" y="588.4" font-family="Liberation Sans" font-size="10" font-weight="normal" fill="#1a1a1a" text-anchor="middle" >450</text>
<text x="409.5" y="606" font-family="Liberation Sans" font-size="12.2" font-weight="bold" fill="#111" text-anchor="middle" >Wavelength (nm)</text>
<line x1="452.7" y1="426.2" x2="468.8" y2="426.2" stroke="#d42030" stroke-width="1.8" />
<line x1="452.7" y1="435.95" x2="468.8" y2="435.95" stroke="#26992a" stroke-width="1.8" />
<line x1="452.7" y1="445.7" x2="468.8" y2="445.7" stroke="#2c8ad9" stroke-width="1.8" />
<line x1="452.7" y1="455.45" x2="468.8" y2="455.45" stroke="#e77b28" stroke-width="1.8" />
<line x1="452.7" y1="465.2" x2="468.8" y2="465.2" stroke="#1cb3ae" stroke-width="1.8" />
<text x="503.2" y="429" font-family="Liberation Sans" font-size="7.6" font-weight="bold" fill="#111" text-anchor="end" >4.3 nm</text>
<text x="503.2" y="438.75" font-family="Liberation Sans" font-size="7.6" font-weight="bold" fill="#111" text-anchor="end" >9.8 nm</text>
<text x="503.2" y="448.5" font-family="Liberation Sans" font-size="7.6" font-weight="bold" fill="#111" text-anchor="end" >14.9 nm</text>
<text x="503.2" y="458.25" font-family="Liberation Sans" font-size="7.6" font-weight="bold" fill="#111" text-anchor="end" >20.7 nm</text>
<text x="503.2" y="468" font-family="Liberation Sans" font-size="7.6" font-weight="bold" fill="#111" text-anchor="end" >52.3 nm</text>
<text x="328.8" y="542.6" font-family="Liberation Serif" font-size="13" font-style="italic" fill="#111">λ</text>
<text x="338" y="545.6" font-family="Liberation Sans" font-size="8.2" font-weight="bold" fill="#222" text-anchor="start" >ex</text>
<text x="349.6" y="542.6" font-family="Liberation Sans" font-size="11.6" font-weight="bold" fill="#111" text-anchor="start" >= 850 nm</text>
<path d="M336.5,481.1 L349.5,479.5 L361.3,479.3 L374.8,452.3 L393.1,434.1" fill="none" stroke="#22a022" stroke-width="1.3" stroke-linejoin="round" stroke-linecap="round" stroke-dasharray="0.1,2.2" stroke-linecap="round"/>
<circle cx="336.5" cy="481.1" r="3" fill="url(#sphG)"/>
<circle cx="349.5" cy="479.5" r="3" fill="url(#sphG)"/>
<circle cx="361.3" cy="479.3" r="3" fill="url(#sphG)"/>
<circle cx="374.8" cy="452.3" r="3" fill="url(#sphG)"/>
<circle cx="393.1" cy="434.1" r="3" fill="url(#sphG)"/>
<line x1="326.4" y1="425.3" x2="326.4" y2="488.2" stroke="#1f1f1f" stroke-width="1.1" />
<line x1="401.6" y1="425.3" x2="401.6" y2="488.2" stroke="#1f1f1f" stroke-width="1.1" />
<line x1="325.9" y1="425.3" x2="402.1" y2="425.3" stroke="#1f1f1f" stroke-width="1.1" />
<line x1="325.9" y1="488.2" x2="402.1" y2="488.2" stroke="#1f1f1f" stroke-width="1.1" />
<path d="M377.1,427.9 L378.9,422.9 L381,422.9 L379.2,427.9 Z" fill="#2a2a2a"/>
<path d="M377.1,490.8 L378.9,485.8 L381,485.8 L379.2,490.8 Z" fill="#2a2a2a"/>
<line x1="338.2" y1="488.2" x2="338.2" y2="486.2" stroke="#1f1f1f" stroke-width="0.9" />
<line x1="350.3" y1="488.2" x2="350.3" y2="486.2" stroke="#1f1f1f" stroke-width="0.9" />
<line x1="361.5" y1="488.2" x2="361.5" y2="486.2" stroke="#1f1f1f" stroke-width="0.9" />
<line x1="373.7" y1="488.2" x2="373.7" y2="486.2" stroke="#1f1f1f" stroke-width="0.9" />
<line x1="390.1" y1="488.2" x2="390.1" y2="486.2" stroke="#1f1f1f" stroke-width="0.9" />
<line x1="401.6" y1="434" x2="400.1" y2="434" stroke="#1f1f1f" stroke-width="0.8" />
<line x1="401.6" y1="443" x2="400.1" y2="443" stroke="#1f1f1f" stroke-width="0.8" />
<line x1="401.6" y1="452" x2="400.1" y2="452" stroke="#1f1f1f" stroke-width="0.8" />
<line x1="401.6" y1="461" x2="400.1" y2="461" stroke="#1f1f1f" stroke-width="0.8" />
<line x1="401.6" y1="470" x2="400.1" y2="470" stroke="#1f1f1f" stroke-width="0.8" />
<line x1="401.6" y1="479" x2="400.1" y2="479" stroke="#1f1f1f" stroke-width="0.8" />
<text x="326" y="497.9" font-family="Liberation Sans" font-size="7.3" font-weight="normal" fill="#1a1a1a" text-anchor="middle" >0</text>
<text x="338.2" y="497.9" font-family="Liberation Sans" font-size="7.3" font-weight="normal" fill="#1a1a1a" text-anchor="middle" >5</text>
<text x="350.7" y="497.9" font-family="Liberation Sans" font-size="7.3" font-weight="normal" fill="#1a1a1a" text-anchor="middle" >10</text>
<text x="362" y="497.9" font-family="Liberation Sans" font-size="7.3" font-weight="normal" fill="#1a1a1a" text-anchor="middle" >15</text>
<text x="373.2" y="497.9" font-family="Liberation Sans" font-size="7.3" font-weight="normal" fill="#1a1a1a" text-anchor="middle" >20</text>
<text x="390.5" y="497.9" font-family="Liberation Sans" font-size="7.3" font-weight="normal" fill="#1a1a1a" text-anchor="middle" >52</text>
<text x="400.9" y="497.9" font-family="Liberation Sans" font-size="7.3" font-weight="normal" fill="#1a1a1a" text-anchor="middle" >53</text>
<text x="364.1" y="511" font-family="Liberation Sans" font-size="8.3" font-weight="bold" fill="#111" text-anchor="middle" >Thickness (nm)</text>
<text x="320.6" y="456.9" font-family="Liberation Sans" font-size="8.2" font-weight="bold" fill="#111" text-anchor="middle" transform="rotate(-90 320.6 456.9)" >SHG peak (a.u.)</text>
</svg>
</body></html>
